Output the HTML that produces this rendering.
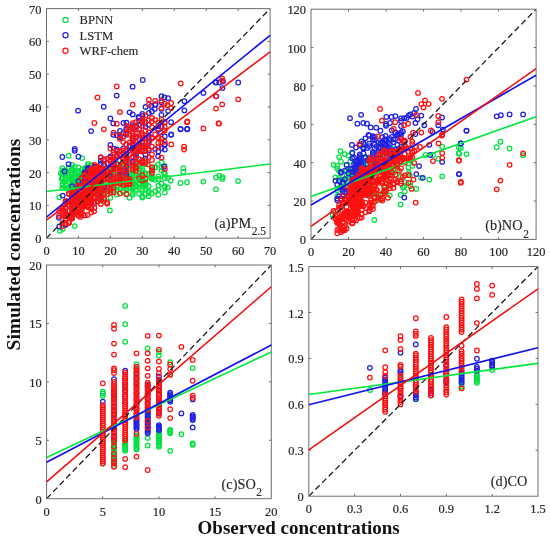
<!DOCTYPE html>
<html><head><meta charset="utf-8"><style>html,body{margin:0;padding:0;background:#fff;}svg{display:block;will-change:transform}</style></head>
<body><svg width="550" height="540" viewBox="0 0 550 540">
<rect width="550" height="540" fill="#fff"/>
<clipPath id="ca"><rect x="46.5" y="8.6" width="223.60000000000002" height="229.6"/></clipPath><g clip-path="url(#ca)"><g fill="none" stroke="#00e040" stroke-width="1.25"><circle cx="78.4" cy="167.3" r="2.3"/><circle cx="72.1" cy="186.1" r="2.3"/><circle cx="91.2" cy="189.9" r="2.3"/><circle cx="100.8" cy="182.5" r="2.3"/><circle cx="94.4" cy="189.5" r="2.3"/><circle cx="75.2" cy="176.9" r="2.3"/><circle cx="126.4" cy="180.4" r="2.3"/><circle cx="84.8" cy="187.2" r="2.3"/><circle cx="142.3" cy="178.8" r="2.3"/><circle cx="94.4" cy="183.7" r="2.3"/><circle cx="65.7" cy="178.0" r="2.3"/><circle cx="91.2" cy="179.1" r="2.3"/><circle cx="78.4" cy="173.1" r="2.3"/><circle cx="126.4" cy="171.4" r="2.3"/><circle cx="104.0" cy="188.1" r="2.3"/><circle cx="91.2" cy="186.4" r="2.3"/><circle cx="72.1" cy="188.7" r="2.3"/><circle cx="81.6" cy="175.9" r="2.3"/><circle cx="94.4" cy="188.2" r="2.3"/><circle cx="107.2" cy="168.1" r="2.3"/><circle cx="88.0" cy="179.6" r="2.3"/><circle cx="132.7" cy="194.8" r="2.3"/><circle cx="104.0" cy="172.7" r="2.3"/><circle cx="132.7" cy="174.4" r="2.3"/><circle cx="91.2" cy="184.3" r="2.3"/><circle cx="72.1" cy="172.1" r="2.3"/><circle cx="120.0" cy="174.8" r="2.3"/><circle cx="97.6" cy="180.5" r="2.3"/><circle cx="110.4" cy="185.3" r="2.3"/><circle cx="120.0" cy="177.3" r="2.3"/><circle cx="91.2" cy="179.4" r="2.3"/><circle cx="107.2" cy="168.7" r="2.3"/><circle cx="97.6" cy="186.9" r="2.3"/><circle cx="158.3" cy="189.6" r="2.3"/><circle cx="110.4" cy="174.6" r="2.3"/><circle cx="113.6" cy="166.9" r="2.3"/><circle cx="158.3" cy="178.9" r="2.3"/><circle cx="88.0" cy="185.8" r="2.3"/><circle cx="110.4" cy="188.5" r="2.3"/><circle cx="97.6" cy="193.4" r="2.3"/><circle cx="78.4" cy="195.6" r="2.3"/><circle cx="120.0" cy="176.4" r="2.3"/><circle cx="84.8" cy="179.1" r="2.3"/><circle cx="132.7" cy="178.2" r="2.3"/><circle cx="97.6" cy="179.1" r="2.3"/><circle cx="132.7" cy="171.8" r="2.3"/><circle cx="151.9" cy="169.4" r="2.3"/><circle cx="94.4" cy="181.2" r="2.3"/><circle cx="132.7" cy="183.2" r="2.3"/><circle cx="75.2" cy="181.8" r="2.3"/><circle cx="84.8" cy="181.5" r="2.3"/><circle cx="97.6" cy="183.1" r="2.3"/><circle cx="84.8" cy="179.9" r="2.3"/><circle cx="94.4" cy="175.0" r="2.3"/><circle cx="104.0" cy="176.6" r="2.3"/><circle cx="132.7" cy="172.9" r="2.3"/><circle cx="107.2" cy="178.2" r="2.3"/><circle cx="72.1" cy="179.5" r="2.3"/><circle cx="142.3" cy="189.0" r="2.3"/><circle cx="142.3" cy="177.9" r="2.3"/><circle cx="94.4" cy="190.8" r="2.3"/><circle cx="110.4" cy="170.5" r="2.3"/><circle cx="72.1" cy="188.3" r="2.3"/><circle cx="81.6" cy="191.2" r="2.3"/><circle cx="72.1" cy="189.1" r="2.3"/><circle cx="78.4" cy="189.6" r="2.3"/><circle cx="91.2" cy="181.9" r="2.3"/><circle cx="132.7" cy="186.1" r="2.3"/><circle cx="78.4" cy="181.6" r="2.3"/><circle cx="91.2" cy="188.6" r="2.3"/><circle cx="78.4" cy="189.7" r="2.3"/><circle cx="164.7" cy="172.8" r="2.3"/><circle cx="97.6" cy="189.5" r="2.3"/><circle cx="75.2" cy="176.3" r="2.3"/><circle cx="84.8" cy="182.6" r="2.3"/><circle cx="75.2" cy="181.4" r="2.3"/><circle cx="145.5" cy="173.1" r="2.3"/><circle cx="78.4" cy="187.7" r="2.3"/><circle cx="68.9" cy="190.5" r="2.3"/><circle cx="151.9" cy="178.9" r="2.3"/><circle cx="132.7" cy="167.1" r="2.3"/><circle cx="91.2" cy="194.7" r="2.3"/><circle cx="120.0" cy="175.3" r="2.3"/><circle cx="120.0" cy="184.0" r="2.3"/><circle cx="84.8" cy="190.5" r="2.3"/><circle cx="164.7" cy="166.0" r="2.3"/><circle cx="145.5" cy="186.0" r="2.3"/><circle cx="135.9" cy="166.0" r="2.3"/><circle cx="100.8" cy="175.2" r="2.3"/><circle cx="68.9" cy="167.7" r="2.3"/><circle cx="88.0" cy="181.8" r="2.3"/><circle cx="113.6" cy="183.7" r="2.3"/><circle cx="107.2" cy="173.8" r="2.3"/><circle cx="164.7" cy="178.0" r="2.3"/><circle cx="97.6" cy="193.0" r="2.3"/><circle cx="84.8" cy="180.5" r="2.3"/><circle cx="81.6" cy="181.0" r="2.3"/><circle cx="135.9" cy="164.2" r="2.3"/><circle cx="110.4" cy="182.5" r="2.3"/><circle cx="123.2" cy="183.9" r="2.3"/><circle cx="110.4" cy="193.3" r="2.3"/><circle cx="142.3" cy="172.1" r="2.3"/><circle cx="110.4" cy="179.1" r="2.3"/><circle cx="123.2" cy="172.2" r="2.3"/><circle cx="123.2" cy="180.3" r="2.3"/><circle cx="100.8" cy="187.4" r="2.3"/><circle cx="142.3" cy="190.8" r="2.3"/><circle cx="78.4" cy="177.5" r="2.3"/><circle cx="78.4" cy="197.5" r="2.3"/><circle cx="145.5" cy="183.4" r="2.3"/><circle cx="126.4" cy="165.3" r="2.3"/><circle cx="129.6" cy="177.9" r="2.3"/><circle cx="104.0" cy="184.0" r="2.3"/><circle cx="65.7" cy="181.3" r="2.3"/><circle cx="126.4" cy="194.3" r="2.3"/><circle cx="142.3" cy="166.2" r="2.3"/><circle cx="132.7" cy="192.8" r="2.3"/><circle cx="81.6" cy="172.6" r="2.3"/><circle cx="88.0" cy="175.4" r="2.3"/><circle cx="107.2" cy="178.7" r="2.3"/><circle cx="94.4" cy="197.1" r="2.3"/><circle cx="135.9" cy="185.7" r="2.3"/><circle cx="97.6" cy="176.9" r="2.3"/><circle cx="135.9" cy="187.0" r="2.3"/><circle cx="139.1" cy="169.3" r="2.3"/><circle cx="100.8" cy="184.3" r="2.3"/><circle cx="65.7" cy="188.3" r="2.3"/><circle cx="81.6" cy="184.2" r="2.3"/><circle cx="123.2" cy="192.2" r="2.3"/><circle cx="97.6" cy="198.0" r="2.3"/><circle cx="116.8" cy="189.9" r="2.3"/><circle cx="100.8" cy="182.6" r="2.3"/><circle cx="123.2" cy="183.7" r="2.3"/><circle cx="104.0" cy="173.4" r="2.3"/><circle cx="88.0" cy="178.9" r="2.3"/><circle cx="113.6" cy="179.3" r="2.3"/><circle cx="120.0" cy="168.6" r="2.3"/><circle cx="107.2" cy="182.3" r="2.3"/><circle cx="100.8" cy="173.4" r="2.3"/><circle cx="113.6" cy="168.5" r="2.3"/><circle cx="100.8" cy="164.1" r="2.3"/><circle cx="142.3" cy="197.5" r="2.3"/><circle cx="132.7" cy="187.1" r="2.3"/><circle cx="88.0" cy="177.6" r="2.3"/><circle cx="142.3" cy="177.6" r="2.3"/><circle cx="75.2" cy="173.4" r="2.3"/><circle cx="97.6" cy="188.3" r="2.3"/><circle cx="84.8" cy="199.0" r="2.3"/><circle cx="110.4" cy="180.2" r="2.3"/><circle cx="155.1" cy="167.4" r="2.3"/><circle cx="116.8" cy="189.6" r="2.3"/><circle cx="78.4" cy="179.4" r="2.3"/><circle cx="161.5" cy="170.4" r="2.3"/><circle cx="145.5" cy="184.7" r="2.3"/><circle cx="97.6" cy="172.3" r="2.3"/><circle cx="145.5" cy="174.2" r="2.3"/><circle cx="94.4" cy="171.3" r="2.3"/><circle cx="91.2" cy="184.4" r="2.3"/><circle cx="88.0" cy="163.9" r="2.3"/><circle cx="62.5" cy="173.4" r="2.3"/><circle cx="97.6" cy="182.8" r="2.3"/><circle cx="91.2" cy="175.9" r="2.3"/><circle cx="100.8" cy="175.0" r="2.3"/><circle cx="151.9" cy="177.4" r="2.3"/><circle cx="161.5" cy="167.5" r="2.3"/><circle cx="84.8" cy="189.4" r="2.3"/><circle cx="120.0" cy="170.9" r="2.3"/><circle cx="78.4" cy="171.4" r="2.3"/><circle cx="135.9" cy="186.0" r="2.3"/><circle cx="88.0" cy="177.5" r="2.3"/><circle cx="139.1" cy="177.1" r="2.3"/><circle cx="113.6" cy="187.9" r="2.3"/><circle cx="72.1" cy="187.5" r="2.3"/><circle cx="94.4" cy="174.5" r="2.3"/><circle cx="142.3" cy="196.2" r="2.3"/><circle cx="123.2" cy="190.7" r="2.3"/><circle cx="129.6" cy="187.9" r="2.3"/><circle cx="129.6" cy="173.4" r="2.3"/><circle cx="91.2" cy="179.2" r="2.3"/><circle cx="139.1" cy="166.4" r="2.3"/><circle cx="78.4" cy="171.4" r="2.3"/><circle cx="84.8" cy="169.9" r="2.3"/><circle cx="81.6" cy="198.0" r="2.3"/><circle cx="81.6" cy="182.5" r="2.3"/><circle cx="88.0" cy="192.7" r="2.3"/><circle cx="91.2" cy="165.1" r="2.3"/><circle cx="81.6" cy="169.9" r="2.3"/><circle cx="65.7" cy="183.5" r="2.3"/><circle cx="65.7" cy="170.6" r="2.3"/><circle cx="116.8" cy="172.3" r="2.3"/><circle cx="97.6" cy="174.1" r="2.3"/><circle cx="72.1" cy="186.5" r="2.3"/><circle cx="104.0" cy="186.5" r="2.3"/><circle cx="126.4" cy="166.4" r="2.3"/><circle cx="100.8" cy="195.1" r="2.3"/><circle cx="151.9" cy="175.0" r="2.3"/><circle cx="126.4" cy="167.7" r="2.3"/><circle cx="126.4" cy="178.2" r="2.3"/><circle cx="91.2" cy="182.7" r="2.3"/><circle cx="78.4" cy="176.4" r="2.3"/><circle cx="116.8" cy="186.2" r="2.3"/><circle cx="81.6" cy="178.2" r="2.3"/><circle cx="129.6" cy="179.6" r="2.3"/><circle cx="129.6" cy="183.8" r="2.3"/><circle cx="84.8" cy="195.1" r="2.3"/><circle cx="97.6" cy="189.5" r="2.3"/><circle cx="97.6" cy="173.7" r="2.3"/><circle cx="145.5" cy="163.6" r="2.3"/><circle cx="116.8" cy="181.7" r="2.3"/><circle cx="148.7" cy="186.1" r="2.3"/><circle cx="91.2" cy="177.5" r="2.3"/><circle cx="91.2" cy="175.9" r="2.3"/><circle cx="100.8" cy="191.6" r="2.3"/><circle cx="100.8" cy="192.6" r="2.3"/><circle cx="84.8" cy="176.4" r="2.3"/><circle cx="94.4" cy="198.4" r="2.3"/><circle cx="65.7" cy="173.4" r="2.3"/><circle cx="84.8" cy="180.7" r="2.3"/><circle cx="100.8" cy="184.5" r="2.3"/><circle cx="129.6" cy="178.6" r="2.3"/><circle cx="151.9" cy="178.5" r="2.3"/><circle cx="88.0" cy="194.8" r="2.3"/><circle cx="75.2" cy="192.1" r="2.3"/><circle cx="126.4" cy="175.8" r="2.3"/><circle cx="126.4" cy="190.0" r="2.3"/><circle cx="126.4" cy="177.3" r="2.3"/><circle cx="145.5" cy="194.2" r="2.3"/><circle cx="100.8" cy="178.5" r="2.3"/><circle cx="126.4" cy="183.0" r="2.3"/><circle cx="145.5" cy="161.1" r="2.3"/><circle cx="135.9" cy="170.5" r="2.3"/><circle cx="113.6" cy="169.2" r="2.3"/><circle cx="68.9" cy="175.3" r="2.3"/><circle cx="91.2" cy="175.9" r="2.3"/><circle cx="126.4" cy="188.6" r="2.3"/><circle cx="107.2" cy="191.4" r="2.3"/><circle cx="113.6" cy="185.0" r="2.3"/><circle cx="62.5" cy="168.2" r="2.3"/><circle cx="139.1" cy="193.8" r="2.3"/><circle cx="100.8" cy="189.7" r="2.3"/><circle cx="72.1" cy="178.8" r="2.3"/><circle cx="84.8" cy="168.2" r="2.3"/><circle cx="84.8" cy="191.7" r="2.3"/><circle cx="81.6" cy="192.6" r="2.3"/><circle cx="161.5" cy="183.7" r="2.3"/><circle cx="91.2" cy="187.9" r="2.3"/><circle cx="113.6" cy="190.8" r="2.3"/><circle cx="123.2" cy="178.8" r="2.3"/><circle cx="75.2" cy="177.9" r="2.3"/><circle cx="84.8" cy="172.9" r="2.3"/><circle cx="91.2" cy="188.8" r="2.3"/><circle cx="65.7" cy="171.1" r="2.3"/><circle cx="84.8" cy="170.8" r="2.3"/><circle cx="113.6" cy="175.1" r="2.3"/><circle cx="88.0" cy="175.9" r="2.3"/><circle cx="97.6" cy="186.6" r="2.3"/><circle cx="78.4" cy="180.5" r="2.3"/><circle cx="81.6" cy="182.8" r="2.3"/><circle cx="158.3" cy="176.4" r="2.3"/><circle cx="97.6" cy="179.8" r="2.3"/><circle cx="161.5" cy="162.5" r="2.3"/><circle cx="84.8" cy="179.8" r="2.3"/><circle cx="142.3" cy="181.0" r="2.3"/><circle cx="104.0" cy="187.6" r="2.3"/><circle cx="100.8" cy="185.6" r="2.3"/><circle cx="72.1" cy="193.4" r="2.3"/><circle cx="113.6" cy="174.2" r="2.3"/><circle cx="132.7" cy="181.4" r="2.3"/><circle cx="135.9" cy="178.2" r="2.3"/><circle cx="68.9" cy="188.3" r="2.3"/><circle cx="100.8" cy="169.9" r="2.3"/><circle cx="88.0" cy="190.7" r="2.3"/><circle cx="91.2" cy="196.1" r="2.3"/><circle cx="129.6" cy="164.6" r="2.3"/><circle cx="120.0" cy="168.4" r="2.3"/><circle cx="72.1" cy="196.0" r="2.3"/><circle cx="135.9" cy="161.8" r="2.3"/><circle cx="91.2" cy="184.7" r="2.3"/><circle cx="94.4" cy="186.8" r="2.3"/><circle cx="120.0" cy="183.1" r="2.3"/><circle cx="94.4" cy="186.5" r="2.3"/><circle cx="72.1" cy="170.1" r="2.3"/><circle cx="126.4" cy="176.9" r="2.3"/><circle cx="142.3" cy="179.4" r="2.3"/><circle cx="84.8" cy="174.5" r="2.3"/><circle cx="81.6" cy="173.1" r="2.3"/><circle cx="145.5" cy="183.2" r="2.3"/><circle cx="145.5" cy="189.0" r="2.3"/><circle cx="139.1" cy="175.8" r="2.3"/><circle cx="116.8" cy="163.1" r="2.3"/><circle cx="65.7" cy="185.1" r="2.3"/><circle cx="107.2" cy="187.8" r="2.3"/><circle cx="126.4" cy="180.5" r="2.3"/><circle cx="72.1" cy="164.9" r="2.3"/><circle cx="72.1" cy="180.6" r="2.3"/><circle cx="91.2" cy="171.2" r="2.3"/><circle cx="116.8" cy="194.6" r="2.3"/><circle cx="88.0" cy="174.6" r="2.3"/><circle cx="88.0" cy="165.9" r="2.3"/><circle cx="94.4" cy="191.7" r="2.3"/><circle cx="81.6" cy="179.4" r="2.3"/><circle cx="135.9" cy="179.9" r="2.3"/><circle cx="84.8" cy="171.8" r="2.3"/><circle cx="164.7" cy="187.0" r="2.3"/><circle cx="78.4" cy="183.6" r="2.3"/><circle cx="75.2" cy="173.2" r="2.3"/><circle cx="75.2" cy="189.2" r="2.3"/><circle cx="84.8" cy="192.5" r="2.3"/><circle cx="132.7" cy="168.1" r="2.3"/><circle cx="104.0" cy="178.6" r="2.3"/><circle cx="100.8" cy="177.7" r="2.3"/><circle cx="91.2" cy="174.3" r="2.3"/><circle cx="88.0" cy="183.3" r="2.3"/><circle cx="72.1" cy="182.3" r="2.3"/><circle cx="110.4" cy="197.7" r="2.3"/><circle cx="81.6" cy="187.4" r="2.3"/><circle cx="84.8" cy="188.4" r="2.3"/><circle cx="97.6" cy="181.2" r="2.3"/><circle cx="148.7" cy="192.8" r="2.3"/><circle cx="62.5" cy="178.1" r="2.3"/><circle cx="116.8" cy="174.6" r="2.3"/><circle cx="110.4" cy="184.5" r="2.3"/><circle cx="59.3" cy="197.3" r="2.3"/><circle cx="139.1" cy="173.7" r="2.3"/><circle cx="148.7" cy="173.7" r="2.3"/><circle cx="84.8" cy="180.8" r="2.3"/><circle cx="78.4" cy="182.2" r="2.3"/><circle cx="113.6" cy="187.4" r="2.3"/><circle cx="135.9" cy="175.0" r="2.3"/><circle cx="120.0" cy="165.9" r="2.3"/><circle cx="104.0" cy="193.4" r="2.3"/><circle cx="123.2" cy="174.6" r="2.3"/><circle cx="139.1" cy="183.7" r="2.3"/><circle cx="88.0" cy="177.5" r="2.3"/><circle cx="84.8" cy="194.6" r="2.3"/><circle cx="113.6" cy="181.5" r="2.3"/><circle cx="72.1" cy="176.8" r="2.3"/><circle cx="104.0" cy="188.9" r="2.3"/><circle cx="84.8" cy="170.3" r="2.3"/><circle cx="65.7" cy="185.5" r="2.3"/><circle cx="97.6" cy="189.7" r="2.3"/><circle cx="126.4" cy="172.7" r="2.3"/><circle cx="110.4" cy="173.2" r="2.3"/><circle cx="84.8" cy="183.5" r="2.3"/><circle cx="132.7" cy="188.7" r="2.3"/><circle cx="65.7" cy="178.4" r="2.3"/><circle cx="113.6" cy="179.9" r="2.3"/><circle cx="84.8" cy="192.8" r="2.3"/><circle cx="139.1" cy="168.9" r="2.3"/><circle cx="68.9" cy="187.1" r="2.3"/><circle cx="94.4" cy="173.1" r="2.3"/><circle cx="81.6" cy="177.3" r="2.3"/><circle cx="135.9" cy="189.5" r="2.3"/><circle cx="81.6" cy="174.1" r="2.3"/><circle cx="91.2" cy="192.1" r="2.3"/><circle cx="84.8" cy="180.1" r="2.3"/><circle cx="120.0" cy="181.4" r="2.3"/><circle cx="145.5" cy="183.0" r="2.3"/><circle cx="81.6" cy="190.4" r="2.3"/><circle cx="94.4" cy="180.9" r="2.3"/><circle cx="142.3" cy="186.1" r="2.3"/><circle cx="94.4" cy="173.0" r="2.3"/><circle cx="148.7" cy="174.5" r="2.3"/><circle cx="72.1" cy="168.5" r="2.3"/><circle cx="94.4" cy="193.2" r="2.3"/><circle cx="151.9" cy="167.4" r="2.3"/><circle cx="164.7" cy="186.2" r="2.3"/><circle cx="94.4" cy="172.7" r="2.3"/><circle cx="142.3" cy="183.1" r="2.3"/><circle cx="62.5" cy="184.1" r="2.3"/><circle cx="91.2" cy="173.5" r="2.3"/><circle cx="91.2" cy="176.5" r="2.3"/><circle cx="62.5" cy="177.2" r="2.3"/><circle cx="91.2" cy="187.8" r="2.3"/><circle cx="72.1" cy="180.0" r="2.3"/><circle cx="81.6" cy="182.8" r="2.3"/><circle cx="126.4" cy="168.2" r="2.3"/><circle cx="104.0" cy="179.1" r="2.3"/><circle cx="97.6" cy="180.4" r="2.3"/><circle cx="139.1" cy="184.5" r="2.3"/><circle cx="91.2" cy="199.1" r="2.3"/><circle cx="62.5" cy="170.7" r="2.3"/><circle cx="126.4" cy="186.5" r="2.3"/><circle cx="62.5" cy="174.7" r="2.3"/><circle cx="72.1" cy="192.8" r="2.3"/><circle cx="84.8" cy="180.7" r="2.3"/><circle cx="155.1" cy="167.1" r="2.3"/><circle cx="84.8" cy="168.9" r="2.3"/><circle cx="123.2" cy="186.7" r="2.3"/><circle cx="116.8" cy="187.2" r="2.3"/><circle cx="88.0" cy="185.2" r="2.3"/><circle cx="120.0" cy="174.9" r="2.3"/><circle cx="126.4" cy="179.2" r="2.3"/><circle cx="62.5" cy="187.9" r="2.3"/><circle cx="97.6" cy="178.7" r="2.3"/><circle cx="158.3" cy="185.6" r="2.3"/><circle cx="84.8" cy="189.1" r="2.3"/><circle cx="100.8" cy="186.4" r="2.3"/><circle cx="78.4" cy="182.9" r="2.3"/><circle cx="135.9" cy="185.0" r="2.3"/><circle cx="142.3" cy="168.9" r="2.3"/><circle cx="88.0" cy="184.7" r="2.3"/><circle cx="91.2" cy="169.0" r="2.3"/><circle cx="68.9" cy="177.7" r="2.3"/><circle cx="120.0" cy="183.2" r="2.3"/><circle cx="72.1" cy="173.8" r="2.3"/><circle cx="104.0" cy="173.5" r="2.3"/><circle cx="151.9" cy="193.4" r="2.3"/><circle cx="164.7" cy="173.7" r="2.3"/><circle cx="75.2" cy="190.8" r="2.3"/><circle cx="100.8" cy="183.8" r="2.3"/><circle cx="107.2" cy="167.8" r="2.3"/><circle cx="94.4" cy="171.3" r="2.3"/><circle cx="113.6" cy="175.2" r="2.3"/><circle cx="148.7" cy="191.1" r="2.3"/><circle cx="78.4" cy="186.7" r="2.3"/><circle cx="91.2" cy="177.7" r="2.3"/><circle cx="91.2" cy="171.1" r="2.3"/><circle cx="81.6" cy="197.8" r="2.3"/><circle cx="84.8" cy="176.4" r="2.3"/><circle cx="132.7" cy="184.3" r="2.3"/><circle cx="88.0" cy="190.9" r="2.3"/><circle cx="158.3" cy="194.7" r="2.3"/><circle cx="84.8" cy="193.0" r="2.3"/><circle cx="129.6" cy="197.7" r="2.3"/><circle cx="68.9" cy="178.0" r="2.3"/><circle cx="126.4" cy="175.1" r="2.3"/><circle cx="155.1" cy="179.8" r="2.3"/><circle cx="88.0" cy="195.5" r="2.3"/><circle cx="81.6" cy="186.3" r="2.3"/><circle cx="203.3" cy="181.6" r="2.3"/><circle cx="215.9" cy="177.4" r="2.3"/><circle cx="219.3" cy="175.6" r="2.3"/><circle cx="222.6" cy="177.1" r="2.3"/><circle cx="222.3" cy="178.9" r="2.3"/><circle cx="238.1" cy="181.1" r="2.3"/><circle cx="215.9" cy="189.3" r="2.3"/><circle cx="183.3" cy="168.1" r="2.3"/><circle cx="183.3" cy="171.9" r="2.3"/><circle cx="180.4" cy="183.0" r="2.3"/><circle cx="187.0" cy="182.2" r="2.3"/><circle cx="158.1" cy="164.4" r="2.3"/><circle cx="164.1" cy="172.6" r="2.3"/><circle cx="167.8" cy="177.8" r="2.3"/><circle cx="170.7" cy="180.7" r="2.3"/><circle cx="167.8" cy="187.4" r="2.3"/><circle cx="164.8" cy="192.6" r="2.3"/><circle cx="155.2" cy="191.1" r="2.3"/><circle cx="148.5" cy="196.3" r="2.3"/><circle cx="68.6" cy="155.7" r="2.3"/><circle cx="82.1" cy="158.1" r="2.3"/><circle cx="74.7" cy="166.9" r="2.3"/><circle cx="60.8" cy="173.3" r="2.3"/><circle cx="61.7" cy="178.9" r="2.3"/><circle cx="62.7" cy="185.4" r="2.3"/><circle cx="74.7" cy="226.1" r="2.3"/><circle cx="59.9" cy="230.7" r="2.3"/><circle cx="62.7" cy="228.9" r="2.3"/><circle cx="109.9" cy="210.4" r="2.3"/><circle cx="103.4" cy="201.1" r="2.3"/></g><g fill="none" stroke="#2020e0" stroke-width="1.25"><circle cx="78.4" cy="200.4" r="2.3"/><circle cx="91.2" cy="186.4" r="2.3"/><circle cx="94.4" cy="178.5" r="2.3"/><circle cx="126.4" cy="122.7" r="2.3"/><circle cx="142.3" cy="141.2" r="2.3"/><circle cx="65.7" cy="224.7" r="2.3"/><circle cx="78.4" cy="201.2" r="2.3"/><circle cx="104.0" cy="164.6" r="2.3"/><circle cx="72.1" cy="192.7" r="2.3"/><circle cx="94.4" cy="180.3" r="2.3"/><circle cx="88.0" cy="168.5" r="2.3"/><circle cx="104.0" cy="186.6" r="2.3"/><circle cx="91.2" cy="170.5" r="2.3"/><circle cx="120.0" cy="175.4" r="2.3"/><circle cx="110.4" cy="145.0" r="2.3"/><circle cx="91.2" cy="195.7" r="2.3"/><circle cx="97.6" cy="175.2" r="2.3"/><circle cx="110.4" cy="156.4" r="2.3"/><circle cx="158.3" cy="126.2" r="2.3"/><circle cx="110.4" cy="177.0" r="2.3"/><circle cx="78.4" cy="187.9" r="2.3"/><circle cx="84.8" cy="201.9" r="2.3"/><circle cx="97.6" cy="186.3" r="2.3"/><circle cx="151.9" cy="111.5" r="2.3"/><circle cx="132.7" cy="148.1" r="2.3"/><circle cx="84.8" cy="183.3" r="2.3"/><circle cx="84.8" cy="183.2" r="2.3"/><circle cx="104.0" cy="171.9" r="2.3"/><circle cx="107.2" cy="178.3" r="2.3"/><circle cx="142.3" cy="135.6" r="2.3"/><circle cx="94.4" cy="167.7" r="2.3"/><circle cx="72.1" cy="212.9" r="2.3"/><circle cx="72.1" cy="213.1" r="2.3"/><circle cx="91.2" cy="201.9" r="2.3"/><circle cx="78.4" cy="201.6" r="2.3"/><circle cx="78.4" cy="197.5" r="2.3"/><circle cx="97.6" cy="190.3" r="2.3"/><circle cx="84.8" cy="193.6" r="2.3"/><circle cx="145.5" cy="126.8" r="2.3"/><circle cx="68.9" cy="216.8" r="2.3"/><circle cx="132.7" cy="127.0" r="2.3"/><circle cx="120.0" cy="154.7" r="2.3"/><circle cx="84.8" cy="200.3" r="2.3"/><circle cx="145.5" cy="122.3" r="2.3"/><circle cx="100.8" cy="178.8" r="2.3"/><circle cx="88.0" cy="184.2" r="2.3"/><circle cx="107.2" cy="163.3" r="2.3"/><circle cx="97.6" cy="179.5" r="2.3"/><circle cx="81.6" cy="190.0" r="2.3"/><circle cx="110.4" cy="180.1" r="2.3"/><circle cx="110.4" cy="168.6" r="2.3"/><circle cx="110.4" cy="168.2" r="2.3"/><circle cx="123.2" cy="171.4" r="2.3"/><circle cx="142.3" cy="160.3" r="2.3"/><circle cx="78.4" cy="188.5" r="2.3"/><circle cx="126.4" cy="129.3" r="2.3"/><circle cx="104.0" cy="164.3" r="2.3"/><circle cx="126.4" cy="161.4" r="2.3"/><circle cx="132.7" cy="114.4" r="2.3"/><circle cx="88.0" cy="181.3" r="2.3"/><circle cx="94.4" cy="201.8" r="2.3"/><circle cx="97.6" cy="174.1" r="2.3"/><circle cx="139.1" cy="121.0" r="2.3"/><circle cx="65.7" cy="201.6" r="2.3"/><circle cx="123.2" cy="133.2" r="2.3"/><circle cx="116.8" cy="135.2" r="2.3"/><circle cx="123.2" cy="148.4" r="2.3"/><circle cx="88.0" cy="170.0" r="2.3"/><circle cx="120.0" cy="178.0" r="2.3"/><circle cx="100.8" cy="181.7" r="2.3"/><circle cx="100.8" cy="160.7" r="2.3"/><circle cx="132.7" cy="161.6" r="2.3"/><circle cx="142.3" cy="138.2" r="2.3"/><circle cx="97.6" cy="176.6" r="2.3"/><circle cx="110.4" cy="175.5" r="2.3"/><circle cx="116.8" cy="149.8" r="2.3"/><circle cx="161.5" cy="96.2" r="2.3"/><circle cx="97.6" cy="187.8" r="2.3"/><circle cx="94.4" cy="191.1" r="2.3"/><circle cx="88.0" cy="191.7" r="2.3"/><circle cx="97.6" cy="180.4" r="2.3"/><circle cx="100.8" cy="168.2" r="2.3"/><circle cx="161.5" cy="126.5" r="2.3"/><circle cx="120.0" cy="135.9" r="2.3"/><circle cx="135.9" cy="157.3" r="2.3"/><circle cx="139.1" cy="117.9" r="2.3"/><circle cx="72.1" cy="186.2" r="2.3"/><circle cx="142.3" cy="146.7" r="2.3"/><circle cx="129.6" cy="162.2" r="2.3"/><circle cx="91.2" cy="200.2" r="2.3"/><circle cx="78.4" cy="181.3" r="2.3"/><circle cx="81.6" cy="200.0" r="2.3"/><circle cx="88.0" cy="167.9" r="2.3"/><circle cx="81.6" cy="197.1" r="2.3"/><circle cx="65.7" cy="208.6" r="2.3"/><circle cx="97.6" cy="174.1" r="2.3"/><circle cx="104.0" cy="164.7" r="2.3"/><circle cx="100.8" cy="196.9" r="2.3"/><circle cx="126.4" cy="134.7" r="2.3"/><circle cx="91.2" cy="177.3" r="2.3"/><circle cx="116.8" cy="149.5" r="2.3"/><circle cx="129.6" cy="150.4" r="2.3"/><circle cx="84.8" cy="181.7" r="2.3"/><circle cx="97.6" cy="194.8" r="2.3"/><circle cx="116.8" cy="156.4" r="2.3"/><circle cx="91.2" cy="181.9" r="2.3"/><circle cx="100.8" cy="157.6" r="2.3"/><circle cx="84.8" cy="183.5" r="2.3"/><circle cx="65.7" cy="218.8" r="2.3"/><circle cx="100.8" cy="175.1" r="2.3"/><circle cx="151.9" cy="137.3" r="2.3"/><circle cx="75.2" cy="210.4" r="2.3"/><circle cx="126.4" cy="172.6" r="2.3"/><circle cx="145.5" cy="158.3" r="2.3"/><circle cx="126.4" cy="178.6" r="2.3"/><circle cx="135.9" cy="147.1" r="2.3"/><circle cx="68.9" cy="201.6" r="2.3"/><circle cx="126.4" cy="150.8" r="2.3"/><circle cx="113.6" cy="148.6" r="2.3"/><circle cx="139.1" cy="129.1" r="2.3"/><circle cx="72.1" cy="194.8" r="2.3"/><circle cx="84.8" cy="173.6" r="2.3"/><circle cx="161.5" cy="148.2" r="2.3"/><circle cx="113.6" cy="162.2" r="2.3"/><circle cx="75.2" cy="207.6" r="2.3"/><circle cx="91.2" cy="189.4" r="2.3"/><circle cx="84.8" cy="172.7" r="2.3"/><circle cx="88.0" cy="206.6" r="2.3"/><circle cx="78.4" cy="215.4" r="2.3"/><circle cx="158.3" cy="129.8" r="2.3"/><circle cx="161.5" cy="115.0" r="2.3"/><circle cx="142.3" cy="151.4" r="2.3"/><circle cx="100.8" cy="176.3" r="2.3"/><circle cx="113.6" cy="164.2" r="2.3"/><circle cx="135.9" cy="137.5" r="2.3"/><circle cx="100.8" cy="181.4" r="2.3"/><circle cx="91.2" cy="175.8" r="2.3"/><circle cx="120.0" cy="170.7" r="2.3"/><circle cx="135.9" cy="154.1" r="2.3"/><circle cx="94.4" cy="192.5" r="2.3"/><circle cx="94.4" cy="166.9" r="2.3"/><circle cx="126.4" cy="166.1" r="2.3"/><circle cx="84.8" cy="178.4" r="2.3"/><circle cx="145.5" cy="106.9" r="2.3"/><circle cx="139.1" cy="151.1" r="2.3"/><circle cx="65.7" cy="224.3" r="2.3"/><circle cx="126.4" cy="144.6" r="2.3"/><circle cx="72.1" cy="213.0" r="2.3"/><circle cx="116.8" cy="156.0" r="2.3"/><circle cx="88.0" cy="200.8" r="2.3"/><circle cx="81.6" cy="190.5" r="2.3"/><circle cx="84.8" cy="188.9" r="2.3"/><circle cx="78.4" cy="197.6" r="2.3"/><circle cx="75.2" cy="204.7" r="2.3"/><circle cx="132.7" cy="144.4" r="2.3"/><circle cx="100.8" cy="172.6" r="2.3"/><circle cx="88.0" cy="200.5" r="2.3"/><circle cx="110.4" cy="174.9" r="2.3"/><circle cx="84.8" cy="190.2" r="2.3"/><circle cx="148.7" cy="124.8" r="2.3"/><circle cx="116.8" cy="156.1" r="2.3"/><circle cx="59.3" cy="226.5" r="2.3"/><circle cx="148.7" cy="142.8" r="2.3"/><circle cx="78.4" cy="199.2" r="2.3"/><circle cx="135.9" cy="126.0" r="2.3"/><circle cx="104.0" cy="187.5" r="2.3"/><circle cx="139.1" cy="146.9" r="2.3"/><circle cx="84.8" cy="172.4" r="2.3"/><circle cx="72.1" cy="194.7" r="2.3"/><circle cx="84.8" cy="204.4" r="2.3"/><circle cx="97.6" cy="176.6" r="2.3"/><circle cx="110.4" cy="157.3" r="2.3"/><circle cx="132.7" cy="140.4" r="2.3"/><circle cx="113.6" cy="162.0" r="2.3"/><circle cx="139.1" cy="124.7" r="2.3"/><circle cx="94.4" cy="184.2" r="2.3"/><circle cx="135.9" cy="157.2" r="2.3"/><circle cx="91.2" cy="176.8" r="2.3"/><circle cx="120.0" cy="176.7" r="2.3"/><circle cx="81.6" cy="178.2" r="2.3"/><circle cx="142.3" cy="122.5" r="2.3"/><circle cx="148.7" cy="150.4" r="2.3"/><circle cx="94.4" cy="175.1" r="2.3"/><circle cx="164.7" cy="144.5" r="2.3"/><circle cx="142.3" cy="162.6" r="2.3"/><circle cx="91.2" cy="187.0" r="2.3"/><circle cx="62.5" cy="211.8" r="2.3"/><circle cx="72.1" cy="217.7" r="2.3"/><circle cx="126.4" cy="174.3" r="2.3"/><circle cx="97.6" cy="180.1" r="2.3"/><circle cx="91.2" cy="201.9" r="2.3"/><circle cx="126.4" cy="128.3" r="2.3"/><circle cx="72.1" cy="201.4" r="2.3"/><circle cx="155.1" cy="104.4" r="2.3"/><circle cx="123.2" cy="153.5" r="2.3"/><circle cx="88.0" cy="189.0" r="2.3"/><circle cx="126.4" cy="157.2" r="2.3"/><circle cx="97.6" cy="181.4" r="2.3"/><circle cx="84.8" cy="199.9" r="2.3"/><circle cx="78.4" cy="186.1" r="2.3"/><circle cx="142.3" cy="114.0" r="2.3"/><circle cx="91.2" cy="193.5" r="2.3"/><circle cx="120.0" cy="137.4" r="2.3"/><circle cx="104.0" cy="159.4" r="2.3"/><circle cx="164.7" cy="144.4" r="2.3"/><circle cx="100.8" cy="163.6" r="2.3"/><circle cx="94.4" cy="166.5" r="2.3"/><circle cx="148.7" cy="138.2" r="2.3"/><circle cx="91.2" cy="173.0" r="2.3"/><circle cx="81.6" cy="185.3" r="2.3"/><circle cx="132.7" cy="133.3" r="2.3"/><circle cx="158.3" cy="151.5" r="2.3"/><circle cx="129.6" cy="145.9" r="2.3"/><circle cx="126.4" cy="155.9" r="2.3"/><circle cx="88.0" cy="187.3" r="2.3"/><circle cx="132.6" cy="86.7" r="2.3"/><circle cx="116.7" cy="95.6" r="2.3"/><circle cx="103.7" cy="106.7" r="2.3"/><circle cx="78.1" cy="110.7" r="2.3"/><circle cx="129.6" cy="112.3" r="2.3"/><circle cx="138.5" cy="117.0" r="2.3"/><circle cx="110.4" cy="118.5" r="2.3"/><circle cx="113.3" cy="123.4" r="2.3"/><circle cx="123.4" cy="123.0" r="2.3"/><circle cx="132.6" cy="125.2" r="2.3"/><circle cx="136.3" cy="127.0" r="2.3"/><circle cx="91.1" cy="131.1" r="2.3"/><circle cx="120.0" cy="130.8" r="2.3"/><circle cx="113.3" cy="134.8" r="2.3"/><circle cx="129.6" cy="129.6" r="2.3"/><circle cx="142.7" cy="80.0" r="2.3"/><circle cx="203.4" cy="92.9" r="2.3"/><circle cx="215.6" cy="82.2" r="2.3"/><circle cx="184.4" cy="101.2" r="2.3"/><circle cx="164.4" cy="97.3" r="2.3"/><circle cx="168.1" cy="98.2" r="2.3"/><circle cx="161.5" cy="102.2" r="2.3"/><circle cx="155.6" cy="104.4" r="2.3"/><circle cx="151.1" cy="105.9" r="2.3"/><circle cx="161.5" cy="108.9" r="2.3"/><circle cx="154.8" cy="108.9" r="2.3"/><circle cx="184.4" cy="110.4" r="2.3"/><circle cx="168.1" cy="111.1" r="2.3"/><circle cx="148.9" cy="113.0" r="2.3"/><circle cx="142.7" cy="116.0" r="2.3"/><circle cx="171.1" cy="122.2" r="2.3"/><circle cx="180.7" cy="128.9" r="2.3"/><circle cx="187.4" cy="128.9" r="2.3"/><circle cx="171.1" cy="134.8" r="2.3"/><circle cx="160.7" cy="132.6" r="2.3"/><circle cx="216.0" cy="82.5" r="2.3"/><circle cx="219.3" cy="82.5" r="2.3"/><circle cx="223.0" cy="81.5" r="2.3"/><circle cx="238.2" cy="82.5" r="2.3"/><circle cx="222.5" cy="88.1" r="2.3"/><circle cx="216.3" cy="96.3" r="2.3"/><circle cx="180.4" cy="129.2" r="2.3"/><circle cx="187.0" cy="129.2" r="2.3"/><circle cx="171.2" cy="134.5" r="2.3"/><circle cx="164.8" cy="136.3" r="2.3"/><circle cx="164.8" cy="149.6" r="2.3"/><circle cx="155.2" cy="148.9" r="2.3"/><circle cx="158.1" cy="156.3" r="2.3"/><circle cx="145.6" cy="154.8" r="2.3"/><circle cx="164.1" cy="166.7" r="2.3"/><circle cx="135.9" cy="126.7" r="2.3"/><circle cx="74.7" cy="148.9" r="2.3"/><circle cx="74.7" cy="150.7" r="2.3"/><circle cx="62.3" cy="157.0" r="2.3"/><circle cx="78.4" cy="156.7" r="2.3"/><circle cx="68.6" cy="164.1" r="2.3"/><circle cx="64.5" cy="171.5" r="2.3"/><circle cx="62.7" cy="195.6" r="2.3"/><circle cx="59.0" cy="217.8" r="2.3"/></g><g fill="none" stroke="#ff1010" stroke-width="1.25"><circle cx="78.4" cy="190.5" r="2.3"/><circle cx="72.1" cy="198.3" r="2.3"/><circle cx="91.2" cy="183.7" r="2.3"/><circle cx="100.8" cy="200.5" r="2.3"/><circle cx="94.4" cy="173.5" r="2.3"/><circle cx="75.2" cy="197.4" r="2.3"/><circle cx="126.4" cy="169.5" r="2.3"/><circle cx="84.8" cy="183.9" r="2.3"/><circle cx="142.3" cy="161.2" r="2.3"/><circle cx="94.4" cy="178.2" r="2.3"/><circle cx="65.7" cy="207.2" r="2.3"/><circle cx="91.2" cy="204.1" r="2.3"/><circle cx="78.4" cy="204.3" r="2.3"/><circle cx="126.4" cy="133.0" r="2.3"/><circle cx="104.0" cy="194.1" r="2.3"/><circle cx="91.2" cy="173.1" r="2.3"/><circle cx="72.1" cy="210.1" r="2.3"/><circle cx="81.6" cy="199.0" r="2.3"/><circle cx="94.4" cy="174.8" r="2.3"/><circle cx="107.2" cy="186.9" r="2.3"/><circle cx="88.0" cy="191.0" r="2.3"/><circle cx="132.7" cy="129.1" r="2.3"/><circle cx="104.0" cy="165.1" r="2.3"/><circle cx="132.7" cy="141.2" r="2.3"/><circle cx="91.2" cy="179.6" r="2.3"/><circle cx="72.1" cy="204.0" r="2.3"/><circle cx="120.0" cy="173.0" r="2.3"/><circle cx="97.6" cy="171.1" r="2.3"/><circle cx="110.4" cy="188.5" r="2.3"/><circle cx="120.0" cy="176.9" r="2.3"/><circle cx="91.2" cy="212.5" r="2.3"/><circle cx="107.2" cy="171.6" r="2.3"/><circle cx="97.6" cy="169.5" r="2.3"/><circle cx="158.3" cy="137.4" r="2.3"/><circle cx="110.4" cy="180.3" r="2.3"/><circle cx="113.6" cy="165.5" r="2.3"/><circle cx="158.3" cy="128.8" r="2.3"/><circle cx="88.0" cy="206.4" r="2.3"/><circle cx="110.4" cy="185.3" r="2.3"/><circle cx="97.6" cy="174.9" r="2.3"/><circle cx="78.4" cy="212.1" r="2.3"/><circle cx="120.0" cy="138.9" r="2.3"/><circle cx="84.8" cy="194.6" r="2.3"/><circle cx="132.7" cy="169.6" r="2.3"/><circle cx="97.6" cy="183.5" r="2.3"/><circle cx="132.7" cy="138.5" r="2.3"/><circle cx="151.9" cy="146.7" r="2.3"/><circle cx="94.4" cy="191.4" r="2.3"/><circle cx="132.7" cy="163.4" r="2.3"/><circle cx="75.2" cy="213.6" r="2.3"/><circle cx="84.8" cy="197.3" r="2.3"/><circle cx="97.6" cy="169.6" r="2.3"/><circle cx="84.8" cy="199.1" r="2.3"/><circle cx="94.4" cy="174.8" r="2.3"/><circle cx="104.0" cy="189.3" r="2.3"/><circle cx="132.7" cy="166.9" r="2.3"/><circle cx="107.2" cy="177.4" r="2.3"/><circle cx="72.1" cy="198.1" r="2.3"/><circle cx="142.3" cy="133.8" r="2.3"/><circle cx="142.3" cy="119.5" r="2.3"/><circle cx="94.4" cy="164.8" r="2.3"/><circle cx="110.4" cy="159.6" r="2.3"/><circle cx="72.1" cy="196.7" r="2.3"/><circle cx="81.6" cy="210.0" r="2.3"/><circle cx="72.1" cy="203.4" r="2.3"/><circle cx="78.4" cy="185.4" r="2.3"/><circle cx="91.2" cy="171.5" r="2.3"/><circle cx="132.7" cy="150.9" r="2.3"/><circle cx="78.4" cy="196.7" r="2.3"/><circle cx="91.2" cy="207.8" r="2.3"/><circle cx="78.4" cy="199.8" r="2.3"/><circle cx="164.7" cy="126.9" r="2.3"/><circle cx="97.6" cy="187.3" r="2.3"/><circle cx="75.2" cy="197.4" r="2.3"/><circle cx="84.8" cy="183.3" r="2.3"/><circle cx="75.2" cy="195.1" r="2.3"/><circle cx="145.5" cy="115.4" r="2.3"/><circle cx="78.4" cy="204.6" r="2.3"/><circle cx="68.9" cy="193.6" r="2.3"/><circle cx="151.9" cy="127.1" r="2.3"/><circle cx="132.7" cy="128.6" r="2.3"/><circle cx="91.2" cy="199.0" r="2.3"/><circle cx="120.0" cy="183.5" r="2.3"/><circle cx="120.0" cy="179.6" r="2.3"/><circle cx="84.8" cy="195.0" r="2.3"/><circle cx="164.7" cy="121.9" r="2.3"/><circle cx="145.5" cy="131.1" r="2.3"/><circle cx="135.9" cy="151.0" r="2.3"/><circle cx="100.8" cy="175.3" r="2.3"/><circle cx="68.9" cy="222.0" r="2.3"/><circle cx="88.0" cy="200.3" r="2.3"/><circle cx="113.6" cy="156.9" r="2.3"/><circle cx="107.2" cy="203.8" r="2.3"/><circle cx="164.7" cy="130.4" r="2.3"/><circle cx="97.6" cy="201.6" r="2.3"/><circle cx="84.8" cy="189.3" r="2.3"/><circle cx="81.6" cy="208.2" r="2.3"/><circle cx="135.9" cy="168.2" r="2.3"/><circle cx="110.4" cy="192.5" r="2.3"/><circle cx="123.2" cy="157.7" r="2.3"/><circle cx="110.4" cy="148.5" r="2.3"/><circle cx="142.3" cy="151.5" r="2.3"/><circle cx="110.4" cy="175.1" r="2.3"/><circle cx="123.2" cy="165.7" r="2.3"/><circle cx="123.2" cy="150.3" r="2.3"/><circle cx="100.8" cy="179.7" r="2.3"/><circle cx="142.3" cy="180.4" r="2.3"/><circle cx="78.4" cy="207.8" r="2.3"/><circle cx="78.4" cy="209.4" r="2.3"/><circle cx="145.5" cy="137.8" r="2.3"/><circle cx="126.4" cy="158.1" r="2.3"/><circle cx="129.6" cy="127.1" r="2.3"/><circle cx="104.0" cy="174.7" r="2.3"/><circle cx="65.7" cy="215.4" r="2.3"/><circle cx="126.4" cy="194.0" r="2.3"/><circle cx="142.3" cy="135.7" r="2.3"/><circle cx="132.7" cy="135.7" r="2.3"/><circle cx="81.6" cy="212.8" r="2.3"/><circle cx="88.0" cy="189.9" r="2.3"/><circle cx="107.2" cy="158.6" r="2.3"/><circle cx="94.4" cy="207.9" r="2.3"/><circle cx="135.9" cy="167.1" r="2.3"/><circle cx="97.6" cy="184.3" r="2.3"/><circle cx="135.9" cy="163.4" r="2.3"/><circle cx="139.1" cy="148.3" r="2.3"/><circle cx="100.8" cy="157.2" r="2.3"/><circle cx="65.7" cy="200.8" r="2.3"/><circle cx="81.6" cy="187.8" r="2.3"/><circle cx="123.2" cy="159.6" r="2.3"/><circle cx="97.6" cy="174.4" r="2.3"/><circle cx="116.8" cy="182.1" r="2.3"/><circle cx="100.8" cy="177.6" r="2.3"/><circle cx="123.2" cy="175.2" r="2.3"/><circle cx="104.0" cy="179.4" r="2.3"/><circle cx="88.0" cy="192.2" r="2.3"/><circle cx="113.6" cy="162.9" r="2.3"/><circle cx="120.0" cy="135.4" r="2.3"/><circle cx="107.2" cy="179.4" r="2.3"/><circle cx="100.8" cy="200.0" r="2.3"/><circle cx="113.6" cy="154.7" r="2.3"/><circle cx="100.8" cy="191.3" r="2.3"/><circle cx="142.3" cy="162.9" r="2.3"/><circle cx="132.7" cy="142.7" r="2.3"/><circle cx="88.0" cy="196.2" r="2.3"/><circle cx="142.3" cy="143.1" r="2.3"/><circle cx="75.2" cy="192.7" r="2.3"/><circle cx="97.6" cy="167.7" r="2.3"/><circle cx="84.8" cy="199.5" r="2.3"/><circle cx="110.4" cy="161.2" r="2.3"/><circle cx="155.1" cy="100.9" r="2.3"/><circle cx="116.8" cy="150.8" r="2.3"/><circle cx="78.4" cy="215.4" r="2.3"/><circle cx="161.5" cy="119.6" r="2.3"/><circle cx="145.5" cy="138.4" r="2.3"/><circle cx="97.6" cy="179.7" r="2.3"/><circle cx="145.5" cy="145.1" r="2.3"/><circle cx="94.4" cy="188.6" r="2.3"/><circle cx="91.2" cy="181.9" r="2.3"/><circle cx="88.0" cy="172.0" r="2.3"/><circle cx="62.5" cy="208.8" r="2.3"/><circle cx="97.6" cy="201.1" r="2.3"/><circle cx="91.2" cy="171.0" r="2.3"/><circle cx="100.8" cy="185.3" r="2.3"/><circle cx="151.9" cy="172.8" r="2.3"/><circle cx="161.5" cy="157.6" r="2.3"/><circle cx="84.8" cy="205.8" r="2.3"/><circle cx="120.0" cy="193.5" r="2.3"/><circle cx="78.4" cy="190.3" r="2.3"/><circle cx="135.9" cy="167.8" r="2.3"/><circle cx="88.0" cy="197.4" r="2.3"/><circle cx="139.1" cy="178.3" r="2.3"/><circle cx="113.6" cy="187.6" r="2.3"/><circle cx="72.1" cy="197.1" r="2.3"/><circle cx="94.4" cy="182.6" r="2.3"/><circle cx="142.3" cy="160.7" r="2.3"/><circle cx="123.2" cy="153.2" r="2.3"/><circle cx="129.6" cy="181.4" r="2.3"/><circle cx="129.6" cy="129.2" r="2.3"/><circle cx="91.2" cy="187.5" r="2.3"/><circle cx="139.1" cy="143.8" r="2.3"/><circle cx="78.4" cy="205.5" r="2.3"/><circle cx="84.8" cy="185.3" r="2.3"/><circle cx="81.6" cy="215.1" r="2.3"/><circle cx="81.6" cy="190.8" r="2.3"/><circle cx="88.0" cy="187.5" r="2.3"/><circle cx="91.2" cy="208.7" r="2.3"/><circle cx="81.6" cy="194.6" r="2.3"/><circle cx="65.7" cy="202.1" r="2.3"/><circle cx="65.7" cy="223.0" r="2.3"/><circle cx="116.8" cy="178.1" r="2.3"/><circle cx="97.6" cy="167.2" r="2.3"/><circle cx="72.1" cy="202.2" r="2.3"/><circle cx="104.0" cy="159.6" r="2.3"/><circle cx="126.4" cy="150.1" r="2.3"/><circle cx="100.8" cy="178.1" r="2.3"/><circle cx="151.9" cy="159.9" r="2.3"/><circle cx="126.4" cy="178.6" r="2.3"/><circle cx="126.4" cy="171.6" r="2.3"/><circle cx="91.2" cy="201.4" r="2.3"/><circle cx="78.4" cy="207.8" r="2.3"/><circle cx="116.8" cy="180.1" r="2.3"/><circle cx="81.6" cy="178.4" r="2.3"/><circle cx="129.6" cy="142.3" r="2.3"/><circle cx="129.6" cy="134.7" r="2.3"/><circle cx="84.8" cy="201.8" r="2.3"/><circle cx="97.6" cy="197.8" r="2.3"/><circle cx="97.6" cy="166.3" r="2.3"/><circle cx="145.5" cy="148.0" r="2.3"/><circle cx="116.8" cy="177.2" r="2.3"/><circle cx="148.7" cy="132.5" r="2.3"/><circle cx="91.2" cy="194.6" r="2.3"/><circle cx="91.2" cy="169.4" r="2.3"/><circle cx="100.8" cy="203.9" r="2.3"/><circle cx="100.8" cy="198.8" r="2.3"/><circle cx="84.8" cy="176.6" r="2.3"/><circle cx="94.4" cy="192.0" r="2.3"/><circle cx="65.7" cy="213.3" r="2.3"/><circle cx="84.8" cy="188.3" r="2.3"/><circle cx="100.8" cy="190.9" r="2.3"/><circle cx="129.6" cy="184.3" r="2.3"/><circle cx="151.9" cy="138.3" r="2.3"/><circle cx="88.0" cy="189.2" r="2.3"/><circle cx="75.2" cy="195.1" r="2.3"/><circle cx="126.4" cy="163.2" r="2.3"/><circle cx="126.4" cy="132.3" r="2.3"/><circle cx="126.4" cy="181.4" r="2.3"/><circle cx="145.5" cy="147.1" r="2.3"/><circle cx="100.8" cy="184.6" r="2.3"/><circle cx="126.4" cy="183.5" r="2.3"/><circle cx="145.5" cy="162.7" r="2.3"/><circle cx="135.9" cy="147.3" r="2.3"/><circle cx="113.6" cy="192.6" r="2.3"/><circle cx="68.9" cy="215.4" r="2.3"/><circle cx="91.2" cy="202.6" r="2.3"/><circle cx="126.4" cy="163.5" r="2.3"/><circle cx="107.2" cy="202.3" r="2.3"/><circle cx="113.6" cy="179.2" r="2.3"/><circle cx="62.5" cy="223.1" r="2.3"/><circle cx="139.1" cy="128.9" r="2.3"/><circle cx="100.8" cy="169.2" r="2.3"/><circle cx="72.1" cy="205.5" r="2.3"/><circle cx="84.8" cy="203.5" r="2.3"/><circle cx="84.8" cy="204.7" r="2.3"/><circle cx="81.6" cy="209.3" r="2.3"/><circle cx="161.5" cy="138.9" r="2.3"/><circle cx="91.2" cy="197.8" r="2.3"/><circle cx="113.6" cy="180.2" r="2.3"/><circle cx="123.2" cy="158.6" r="2.3"/><circle cx="75.2" cy="211.7" r="2.3"/><circle cx="84.8" cy="215.4" r="2.3"/><circle cx="91.2" cy="194.7" r="2.3"/><circle cx="65.7" cy="214.9" r="2.3"/><circle cx="84.8" cy="189.7" r="2.3"/><circle cx="113.6" cy="169.3" r="2.3"/><circle cx="88.0" cy="179.9" r="2.3"/><circle cx="97.6" cy="169.5" r="2.3"/><circle cx="78.4" cy="187.5" r="2.3"/><circle cx="81.6" cy="202.7" r="2.3"/><circle cx="158.3" cy="147.4" r="2.3"/><circle cx="97.6" cy="182.5" r="2.3"/><circle cx="161.5" cy="107.9" r="2.3"/><circle cx="84.8" cy="193.5" r="2.3"/><circle cx="142.3" cy="149.5" r="2.3"/><circle cx="104.0" cy="170.5" r="2.3"/><circle cx="100.8" cy="188.8" r="2.3"/><circle cx="72.1" cy="217.3" r="2.3"/><circle cx="113.6" cy="172.2" r="2.3"/><circle cx="132.7" cy="123.2" r="2.3"/><circle cx="135.9" cy="161.8" r="2.3"/><circle cx="68.9" cy="194.1" r="2.3"/><circle cx="100.8" cy="181.6" r="2.3"/><circle cx="88.0" cy="179.6" r="2.3"/><circle cx="91.2" cy="174.5" r="2.3"/><circle cx="129.6" cy="179.1" r="2.3"/><circle cx="120.0" cy="181.5" r="2.3"/><circle cx="72.1" cy="194.0" r="2.3"/><circle cx="135.9" cy="170.7" r="2.3"/><circle cx="91.2" cy="175.8" r="2.3"/><circle cx="94.4" cy="169.8" r="2.3"/><circle cx="120.0" cy="180.2" r="2.3"/><circle cx="94.4" cy="203.4" r="2.3"/><circle cx="72.1" cy="218.6" r="2.3"/><circle cx="126.4" cy="144.5" r="2.3"/><circle cx="142.3" cy="175.0" r="2.3"/><circle cx="84.8" cy="188.9" r="2.3"/><circle cx="81.6" cy="206.6" r="2.3"/><circle cx="145.5" cy="178.9" r="2.3"/><circle cx="145.5" cy="150.9" r="2.3"/><circle cx="139.1" cy="138.9" r="2.3"/><circle cx="116.8" cy="156.1" r="2.3"/><circle cx="65.7" cy="219.3" r="2.3"/><circle cx="107.2" cy="174.3" r="2.3"/><circle cx="126.4" cy="184.0" r="2.3"/><circle cx="72.1" cy="196.1" r="2.3"/><circle cx="72.1" cy="216.1" r="2.3"/><circle cx="91.2" cy="201.3" r="2.3"/><circle cx="116.8" cy="164.3" r="2.3"/><circle cx="88.0" cy="183.8" r="2.3"/><circle cx="88.0" cy="179.4" r="2.3"/><circle cx="94.4" cy="177.1" r="2.3"/><circle cx="81.6" cy="186.1" r="2.3"/><circle cx="135.9" cy="127.7" r="2.3"/><circle cx="84.8" cy="202.5" r="2.3"/><circle cx="164.7" cy="141.7" r="2.3"/><circle cx="78.4" cy="193.2" r="2.3"/><circle cx="75.2" cy="212.4" r="2.3"/><circle cx="75.2" cy="201.0" r="2.3"/><circle cx="84.8" cy="202.4" r="2.3"/><circle cx="132.7" cy="149.6" r="2.3"/><circle cx="104.0" cy="169.4" r="2.3"/><circle cx="100.8" cy="193.6" r="2.3"/><circle cx="91.2" cy="185.6" r="2.3"/><circle cx="88.0" cy="200.4" r="2.3"/><circle cx="72.1" cy="192.6" r="2.3"/><circle cx="110.4" cy="190.0" r="2.3"/><circle cx="81.6" cy="195.6" r="2.3"/><circle cx="84.8" cy="191.7" r="2.3"/><circle cx="97.6" cy="170.4" r="2.3"/><circle cx="148.7" cy="148.8" r="2.3"/><circle cx="62.5" cy="226.2" r="2.3"/><circle cx="116.8" cy="167.6" r="2.3"/><circle cx="110.4" cy="187.9" r="2.3"/><circle cx="59.3" cy="211.0" r="2.3"/><circle cx="139.1" cy="151.1" r="2.3"/><circle cx="148.7" cy="141.1" r="2.3"/><circle cx="84.8" cy="188.1" r="2.3"/><circle cx="78.4" cy="202.0" r="2.3"/><circle cx="113.6" cy="162.0" r="2.3"/><circle cx="135.9" cy="134.0" r="2.3"/><circle cx="120.0" cy="150.9" r="2.3"/><circle cx="104.0" cy="175.0" r="2.3"/><circle cx="123.2" cy="184.9" r="2.3"/><circle cx="139.1" cy="149.2" r="2.3"/><circle cx="88.0" cy="196.5" r="2.3"/><circle cx="84.8" cy="174.8" r="2.3"/><circle cx="113.6" cy="152.5" r="2.3"/><circle cx="72.1" cy="200.8" r="2.3"/><circle cx="104.0" cy="169.9" r="2.3"/><circle cx="84.8" cy="185.7" r="2.3"/><circle cx="65.7" cy="216.3" r="2.3"/><circle cx="97.6" cy="185.2" r="2.3"/><circle cx="126.4" cy="161.7" r="2.3"/><circle cx="110.4" cy="169.3" r="2.3"/><circle cx="84.8" cy="196.8" r="2.3"/><circle cx="132.7" cy="156.4" r="2.3"/><circle cx="65.7" cy="218.5" r="2.3"/><circle cx="113.6" cy="160.3" r="2.3"/><circle cx="84.8" cy="189.9" r="2.3"/><circle cx="139.1" cy="159.1" r="2.3"/><circle cx="68.9" cy="210.6" r="2.3"/><circle cx="94.4" cy="196.8" r="2.3"/><circle cx="81.6" cy="195.4" r="2.3"/><circle cx="135.9" cy="155.6" r="2.3"/><circle cx="81.6" cy="212.3" r="2.3"/><circle cx="91.2" cy="207.3" r="2.3"/><circle cx="84.8" cy="190.7" r="2.3"/><circle cx="120.0" cy="167.6" r="2.3"/><circle cx="145.5" cy="137.7" r="2.3"/><circle cx="81.6" cy="200.0" r="2.3"/><circle cx="94.4" cy="173.2" r="2.3"/><circle cx="142.3" cy="161.0" r="2.3"/><circle cx="94.4" cy="193.3" r="2.3"/><circle cx="148.7" cy="120.4" r="2.3"/><circle cx="72.1" cy="205.4" r="2.3"/><circle cx="94.4" cy="170.4" r="2.3"/><circle cx="151.9" cy="121.5" r="2.3"/><circle cx="164.7" cy="103.7" r="2.3"/><circle cx="94.4" cy="170.8" r="2.3"/><circle cx="142.3" cy="150.4" r="2.3"/><circle cx="62.5" cy="214.0" r="2.3"/><circle cx="91.2" cy="187.3" r="2.3"/><circle cx="91.2" cy="190.1" r="2.3"/><circle cx="62.5" cy="215.3" r="2.3"/><circle cx="91.2" cy="171.0" r="2.3"/><circle cx="72.1" cy="211.4" r="2.3"/><circle cx="81.6" cy="203.3" r="2.3"/><circle cx="126.4" cy="150.6" r="2.3"/><circle cx="104.0" cy="199.2" r="2.3"/><circle cx="97.6" cy="177.0" r="2.3"/><circle cx="139.1" cy="143.7" r="2.3"/><circle cx="91.2" cy="178.9" r="2.3"/><circle cx="62.5" cy="213.7" r="2.3"/><circle cx="126.4" cy="178.2" r="2.3"/><circle cx="62.5" cy="208.2" r="2.3"/><circle cx="72.1" cy="214.8" r="2.3"/><circle cx="84.8" cy="183.7" r="2.3"/><circle cx="155.1" cy="119.8" r="2.3"/><circle cx="84.8" cy="190.1" r="2.3"/><circle cx="123.2" cy="142.1" r="2.3"/><circle cx="116.8" cy="182.6" r="2.3"/><circle cx="88.0" cy="207.2" r="2.3"/><circle cx="120.0" cy="155.5" r="2.3"/><circle cx="126.4" cy="133.3" r="2.3"/><circle cx="62.5" cy="207.4" r="2.3"/><circle cx="97.6" cy="192.4" r="2.3"/><circle cx="158.3" cy="142.9" r="2.3"/><circle cx="84.8" cy="202.3" r="2.3"/><circle cx="100.8" cy="199.1" r="2.3"/><circle cx="78.4" cy="203.4" r="2.3"/><circle cx="135.9" cy="122.1" r="2.3"/><circle cx="142.3" cy="121.5" r="2.3"/><circle cx="88.0" cy="194.3" r="2.3"/><circle cx="91.2" cy="191.7" r="2.3"/><circle cx="68.9" cy="204.8" r="2.3"/><circle cx="120.0" cy="169.9" r="2.3"/><circle cx="72.1" cy="194.8" r="2.3"/><circle cx="104.0" cy="198.9" r="2.3"/><circle cx="151.9" cy="154.3" r="2.3"/><circle cx="164.7" cy="122.6" r="2.3"/><circle cx="75.2" cy="211.0" r="2.3"/><circle cx="100.8" cy="178.7" r="2.3"/><circle cx="107.2" cy="194.0" r="2.3"/><circle cx="94.4" cy="186.3" r="2.3"/><circle cx="113.6" cy="182.1" r="2.3"/><circle cx="148.7" cy="157.5" r="2.3"/><circle cx="78.4" cy="198.2" r="2.3"/><circle cx="91.2" cy="201.0" r="2.3"/><circle cx="91.2" cy="184.7" r="2.3"/><circle cx="81.6" cy="191.2" r="2.3"/><circle cx="84.8" cy="175.0" r="2.3"/><circle cx="132.7" cy="138.9" r="2.3"/><circle cx="88.0" cy="176.5" r="2.3"/><circle cx="158.3" cy="122.9" r="2.3"/><circle cx="84.8" cy="196.7" r="2.3"/><circle cx="129.6" cy="183.4" r="2.3"/><circle cx="68.9" cy="222.9" r="2.3"/><circle cx="126.4" cy="159.8" r="2.3"/><circle cx="155.1" cy="134.5" r="2.3"/><circle cx="88.0" cy="205.2" r="2.3"/><circle cx="81.6" cy="192.7" r="2.3"/><circle cx="116.7" cy="86.4" r="2.3"/><circle cx="97.5" cy="97.5" r="2.3"/><circle cx="132.6" cy="104.7" r="2.3"/><circle cx="120.0" cy="112.1" r="2.3"/><circle cx="94.4" cy="123.0" r="2.3"/><circle cx="103.9" cy="129.3" r="2.3"/><circle cx="116.7" cy="123.7" r="2.3"/><circle cx="126.7" cy="125.9" r="2.3"/><circle cx="113.6" cy="132.6" r="2.3"/><circle cx="123.7" cy="136.3" r="2.3"/><circle cx="136.3" cy="136.3" r="2.3"/><circle cx="180.7" cy="83.4" r="2.3"/><circle cx="148.9" cy="99.7" r="2.3"/><circle cx="148.9" cy="104.4" r="2.3"/><circle cx="161.5" cy="100.7" r="2.3"/><circle cx="171.1" cy="103.0" r="2.3"/><circle cx="167.4" cy="105.2" r="2.3"/><circle cx="171.1" cy="108.1" r="2.3"/><circle cx="187.4" cy="121.5" r="2.3"/><circle cx="203.4" cy="128.4" r="2.3"/><circle cx="218.5" cy="123.4" r="2.3"/><circle cx="144.4" cy="122.2" r="2.3"/><circle cx="151.9" cy="117.8" r="2.3"/><circle cx="222.2" cy="78.5" r="2.3"/><circle cx="222.2" cy="80.7" r="2.3"/><circle cx="216.0" cy="96.3" r="2.3"/><circle cx="238.2" cy="99.3" r="2.3"/><circle cx="222.2" cy="104.4" r="2.3"/><circle cx="216.0" cy="108.6" r="2.3"/><circle cx="219.0" cy="123.4" r="2.3"/><circle cx="187.0" cy="122.2" r="2.3"/><circle cx="184.1" cy="146.7" r="2.3"/><circle cx="184.1" cy="149.6" r="2.3"/><circle cx="171.2" cy="144.4" r="2.3"/><circle cx="161.1" cy="142.2" r="2.3"/><circle cx="164.8" cy="168.9" r="2.3"/><circle cx="152.2" cy="167.4" r="2.3"/><circle cx="152.2" cy="170.4" r="2.3"/><circle cx="147.8" cy="164.4" r="2.3"/><circle cx="142.6" cy="160.7" r="2.3"/><circle cx="141.9" cy="133.3" r="2.3"/><circle cx="142.6" cy="125.9" r="2.3"/><circle cx="59.0" cy="215.9" r="2.3"/><circle cx="69.1" cy="222.4" r="2.3"/><circle cx="80.3" cy="216.9" r="2.3"/><circle cx="87.7" cy="215.0" r="2.3"/><circle cx="94.1" cy="211.3" r="2.3"/></g><line x1="46.50" y1="238.20" x2="270.10" y2="8.60" stroke="#1a1a1a" stroke-width="1.3" stroke-dasharray="6 3.4"/></g><g stroke="#6e6e6e" stroke-width="1" fill="none"><line x1="78.44" y1="238.20" x2="78.44" y2="235.80"/><line x1="78.44" y1="8.60" x2="78.44" y2="11.00"/><line x1="46.50" y1="205.40" x2="48.90" y2="205.40"/><line x1="270.10" y1="205.40" x2="267.70" y2="205.40"/><line x1="110.39" y1="238.20" x2="110.39" y2="235.80"/><line x1="110.39" y1="8.60" x2="110.39" y2="11.00"/><line x1="46.50" y1="172.60" x2="48.90" y2="172.60"/><line x1="270.10" y1="172.60" x2="267.70" y2="172.60"/><line x1="142.33" y1="238.20" x2="142.33" y2="235.80"/><line x1="142.33" y1="8.60" x2="142.33" y2="11.00"/><line x1="46.50" y1="139.80" x2="48.90" y2="139.80"/><line x1="270.10" y1="139.80" x2="267.70" y2="139.80"/><line x1="174.27" y1="238.20" x2="174.27" y2="235.80"/><line x1="174.27" y1="8.60" x2="174.27" y2="11.00"/><line x1="46.50" y1="107.00" x2="48.90" y2="107.00"/><line x1="270.10" y1="107.00" x2="267.70" y2="107.00"/><line x1="206.21" y1="238.20" x2="206.21" y2="235.80"/><line x1="206.21" y1="8.60" x2="206.21" y2="11.00"/><line x1="46.50" y1="74.20" x2="48.90" y2="74.20"/><line x1="270.10" y1="74.20" x2="267.70" y2="74.20"/><line x1="238.16" y1="238.20" x2="238.16" y2="235.80"/><line x1="238.16" y1="8.60" x2="238.16" y2="11.00"/><line x1="46.50" y1="41.40" x2="48.90" y2="41.40"/><line x1="270.10" y1="41.40" x2="267.70" y2="41.40"/><rect x="46.50" y="8.60" width="223.60" height="229.60"/></g><g font-family="Liberation Serif" font-size="12.4" fill="#262626" stroke="#262626" stroke-width="0.2"><text x="41.50" y="243.20" text-anchor="end">0</text><text x="46.50" y="255.10" text-anchor="middle">0</text><text x="41.50" y="210.40" text-anchor="end">10</text><text x="78.44" y="255.10" text-anchor="middle">10</text><text x="41.50" y="177.60" text-anchor="end">20</text><text x="110.39" y="255.10" text-anchor="middle">20</text><text x="41.50" y="144.80" text-anchor="end">30</text><text x="142.33" y="255.10" text-anchor="middle">30</text><text x="41.50" y="112.00" text-anchor="end">40</text><text x="174.27" y="255.10" text-anchor="middle">40</text><text x="41.50" y="79.20" text-anchor="end">50</text><text x="206.21" y="255.10" text-anchor="middle">50</text><text x="41.50" y="46.40" text-anchor="end">60</text><text x="238.16" y="255.10" text-anchor="middle">60</text><text x="41.50" y="13.60" text-anchor="end">70</text><text x="270.10" y="255.10" text-anchor="middle">70</text></g><clipPath id="cb"><rect x="311.0" y="9.2" width="225.10000000000002" height="230.20000000000002"/></clipPath><g clip-path="url(#cb)"><g fill="none" stroke="#00e040" stroke-width="1.25"><circle cx="359.8" cy="170.2" r="2.3"/><circle cx="357.9" cy="183.5" r="2.3"/><circle cx="402.9" cy="148.0" r="2.3"/><circle cx="359.8" cy="181.7" r="2.3"/><circle cx="350.4" cy="161.2" r="2.3"/><circle cx="365.4" cy="191.8" r="2.3"/><circle cx="371.0" cy="173.0" r="2.3"/><circle cx="367.3" cy="186.0" r="2.3"/><circle cx="391.7" cy="148.4" r="2.3"/><circle cx="357.9" cy="181.6" r="2.3"/><circle cx="348.5" cy="177.5" r="2.3"/><circle cx="369.2" cy="189.3" r="2.3"/><circle cx="410.4" cy="182.6" r="2.3"/><circle cx="384.2" cy="162.7" r="2.3"/><circle cx="382.3" cy="169.3" r="2.3"/><circle cx="361.6" cy="166.9" r="2.3"/><circle cx="342.9" cy="179.6" r="2.3"/><circle cx="384.2" cy="145.2" r="2.3"/><circle cx="393.5" cy="172.8" r="2.3"/><circle cx="361.6" cy="180.1" r="2.3"/><circle cx="372.9" cy="175.5" r="2.3"/><circle cx="401.0" cy="176.3" r="2.3"/><circle cx="361.6" cy="184.5" r="2.3"/><circle cx="384.2" cy="167.6" r="2.3"/><circle cx="361.6" cy="162.6" r="2.3"/><circle cx="386.0" cy="176.6" r="2.3"/><circle cx="341.0" cy="186.0" r="2.3"/><circle cx="387.9" cy="168.1" r="2.3"/><circle cx="378.5" cy="168.1" r="2.3"/><circle cx="354.1" cy="181.0" r="2.3"/><circle cx="354.1" cy="171.9" r="2.3"/><circle cx="369.2" cy="185.4" r="2.3"/><circle cx="357.9" cy="161.3" r="2.3"/><circle cx="365.4" cy="168.3" r="2.3"/><circle cx="354.1" cy="178.1" r="2.3"/><circle cx="397.3" cy="164.6" r="2.3"/><circle cx="374.8" cy="194.2" r="2.3"/><circle cx="361.6" cy="191.7" r="2.3"/><circle cx="391.7" cy="164.2" r="2.3"/><circle cx="352.3" cy="153.4" r="2.3"/><circle cx="354.1" cy="175.6" r="2.3"/><circle cx="397.3" cy="170.5" r="2.3"/><circle cx="395.4" cy="156.5" r="2.3"/><circle cx="361.6" cy="166.7" r="2.3"/><circle cx="369.2" cy="190.3" r="2.3"/><circle cx="367.3" cy="160.6" r="2.3"/><circle cx="337.3" cy="190.3" r="2.3"/><circle cx="386.0" cy="189.8" r="2.3"/><circle cx="387.9" cy="174.6" r="2.3"/><circle cx="363.5" cy="183.0" r="2.3"/><circle cx="369.2" cy="162.8" r="2.3"/><circle cx="402.9" cy="187.1" r="2.3"/><circle cx="352.3" cy="183.7" r="2.3"/><circle cx="348.5" cy="187.8" r="2.3"/><circle cx="378.5" cy="158.4" r="2.3"/><circle cx="365.4" cy="158.5" r="2.3"/><circle cx="386.0" cy="186.5" r="2.3"/><circle cx="357.9" cy="178.3" r="2.3"/><circle cx="410.4" cy="160.5" r="2.3"/><circle cx="352.3" cy="171.1" r="2.3"/><circle cx="372.9" cy="175.1" r="2.3"/><circle cx="412.3" cy="165.9" r="2.3"/><circle cx="346.6" cy="178.9" r="2.3"/><circle cx="333.5" cy="164.8" r="2.3"/><circle cx="369.2" cy="177.7" r="2.3"/><circle cx="363.5" cy="186.3" r="2.3"/><circle cx="346.6" cy="164.8" r="2.3"/><circle cx="408.5" cy="167.5" r="2.3"/><circle cx="339.1" cy="177.9" r="2.3"/><circle cx="391.7" cy="154.4" r="2.3"/><circle cx="363.5" cy="168.8" r="2.3"/><circle cx="367.3" cy="174.6" r="2.3"/><circle cx="346.6" cy="170.8" r="2.3"/><circle cx="369.2" cy="170.9" r="2.3"/><circle cx="346.6" cy="175.6" r="2.3"/><circle cx="393.5" cy="169.7" r="2.3"/><circle cx="352.3" cy="175.3" r="2.3"/><circle cx="339.1" cy="157.1" r="2.3"/><circle cx="384.2" cy="153.5" r="2.3"/><circle cx="404.8" cy="191.5" r="2.3"/><circle cx="386.0" cy="179.7" r="2.3"/><circle cx="384.2" cy="160.5" r="2.3"/><circle cx="356.0" cy="184.5" r="2.3"/><circle cx="339.1" cy="187.8" r="2.3"/><circle cx="378.5" cy="194.8" r="2.3"/><circle cx="335.4" cy="177.3" r="2.3"/><circle cx="337.3" cy="168.7" r="2.3"/><circle cx="384.2" cy="186.4" r="2.3"/><circle cx="393.5" cy="153.2" r="2.3"/><circle cx="371.0" cy="167.4" r="2.3"/><circle cx="350.4" cy="171.4" r="2.3"/><circle cx="365.4" cy="156.8" r="2.3"/><circle cx="337.3" cy="165.9" r="2.3"/><circle cx="404.8" cy="182.1" r="2.3"/><circle cx="382.3" cy="193.7" r="2.3"/><circle cx="361.6" cy="192.0" r="2.3"/><circle cx="348.5" cy="168.7" r="2.3"/><circle cx="363.5" cy="178.0" r="2.3"/><circle cx="357.9" cy="173.7" r="2.3"/><circle cx="408.5" cy="172.8" r="2.3"/><circle cx="389.8" cy="195.3" r="2.3"/><circle cx="339.1" cy="171.0" r="2.3"/><circle cx="352.3" cy="183.6" r="2.3"/><circle cx="344.8" cy="180.2" r="2.3"/><circle cx="367.3" cy="163.9" r="2.3"/><circle cx="357.9" cy="166.6" r="2.3"/><circle cx="372.9" cy="180.6" r="2.3"/><circle cx="339.1" cy="179.9" r="2.3"/><circle cx="350.4" cy="176.9" r="2.3"/><circle cx="369.2" cy="172.4" r="2.3"/><circle cx="357.9" cy="199.3" r="2.3"/><circle cx="356.0" cy="162.1" r="2.3"/><circle cx="337.3" cy="196.1" r="2.3"/><circle cx="352.3" cy="169.1" r="2.3"/><circle cx="363.5" cy="160.5" r="2.3"/><circle cx="410.4" cy="186.2" r="2.3"/><circle cx="374.8" cy="192.3" r="2.3"/><circle cx="374.8" cy="165.3" r="2.3"/><circle cx="369.2" cy="174.8" r="2.3"/><circle cx="356.0" cy="167.0" r="2.3"/><circle cx="340.4" cy="151.1" r="2.3"/><circle cx="344.8" cy="154.1" r="2.3"/><circle cx="348.5" cy="155.6" r="2.3"/><circle cx="364.1" cy="145.2" r="2.3"/><circle cx="500.4" cy="141.7" r="2.3"/><circle cx="496.7" cy="147.2" r="2.3"/><circle cx="509.6" cy="148.5" r="2.3"/><circle cx="523.1" cy="155.2" r="2.3"/><circle cx="460.9" cy="147.8" r="2.3"/><circle cx="459.1" cy="153.7" r="2.3"/><circle cx="466.5" cy="154.1" r="2.3"/><circle cx="442.2" cy="146.7" r="2.3"/><circle cx="438.5" cy="158.7" r="2.3"/><circle cx="458.9" cy="147.6" r="2.3"/><circle cx="458.9" cy="153.1" r="2.3"/><circle cx="429.3" cy="179.6" r="2.3"/><circle cx="442.2" cy="176.3" r="2.3"/><circle cx="420.9" cy="177.8" r="2.3"/><circle cx="416.3" cy="188.9" r="2.3"/><circle cx="404.3" cy="185.9" r="2.3"/><circle cx="400.6" cy="194.8" r="2.3"/><circle cx="400.6" cy="204.4" r="2.3"/><circle cx="409.8" cy="175.4" r="2.3"/><circle cx="425.6" cy="155.0" r="2.3"/><circle cx="433.0" cy="155.0" r="2.3"/><circle cx="374.3" cy="220.0" r="2.3"/><circle cx="377.7" cy="200.0" r="2.3"/><circle cx="332.7" cy="215.0" r="2.3"/><circle cx="341.0" cy="161.7" r="2.3"/></g><g fill="none" stroke="#2020e0" stroke-width="1.25"><circle cx="363.5" cy="147.4" r="2.3"/><circle cx="369.2" cy="160.2" r="2.3"/><circle cx="357.9" cy="167.0" r="2.3"/><circle cx="363.5" cy="172.4" r="2.3"/><circle cx="371.0" cy="172.3" r="2.3"/><circle cx="402.9" cy="131.4" r="2.3"/><circle cx="395.4" cy="132.4" r="2.3"/><circle cx="342.9" cy="189.7" r="2.3"/><circle cx="397.3" cy="134.6" r="2.3"/><circle cx="367.3" cy="160.3" r="2.3"/><circle cx="399.2" cy="134.1" r="2.3"/><circle cx="359.8" cy="156.2" r="2.3"/><circle cx="369.2" cy="146.1" r="2.3"/><circle cx="372.9" cy="136.1" r="2.3"/><circle cx="361.6" cy="175.6" r="2.3"/><circle cx="401.0" cy="118.4" r="2.3"/><circle cx="389.8" cy="143.9" r="2.3"/><circle cx="416.0" cy="108.9" r="2.3"/><circle cx="356.0" cy="173.3" r="2.3"/><circle cx="352.3" cy="195.6" r="2.3"/><circle cx="342.9" cy="203.4" r="2.3"/><circle cx="376.7" cy="163.2" r="2.3"/><circle cx="357.9" cy="176.5" r="2.3"/><circle cx="352.3" cy="196.9" r="2.3"/><circle cx="374.8" cy="161.3" r="2.3"/><circle cx="350.4" cy="199.4" r="2.3"/><circle cx="350.4" cy="190.4" r="2.3"/><circle cx="386.0" cy="160.4" r="2.3"/><circle cx="339.1" cy="181.0" r="2.3"/><circle cx="363.5" cy="143.1" r="2.3"/><circle cx="359.8" cy="187.1" r="2.3"/><circle cx="393.5" cy="153.3" r="2.3"/><circle cx="401.0" cy="132.4" r="2.3"/><circle cx="342.9" cy="183.3" r="2.3"/><circle cx="393.5" cy="139.4" r="2.3"/><circle cx="401.0" cy="138.3" r="2.3"/><circle cx="352.3" cy="152.7" r="2.3"/><circle cx="391.7" cy="137.0" r="2.3"/><circle cx="352.3" cy="196.2" r="2.3"/><circle cx="357.9" cy="176.5" r="2.3"/><circle cx="344.8" cy="179.2" r="2.3"/><circle cx="354.1" cy="179.4" r="2.3"/><circle cx="356.0" cy="168.4" r="2.3"/><circle cx="359.8" cy="180.1" r="2.3"/><circle cx="356.0" cy="181.0" r="2.3"/><circle cx="346.6" cy="164.9" r="2.3"/><circle cx="401.0" cy="147.0" r="2.3"/><circle cx="401.0" cy="126.1" r="2.3"/><circle cx="348.5" cy="202.1" r="2.3"/><circle cx="382.3" cy="143.3" r="2.3"/><circle cx="342.9" cy="182.2" r="2.3"/><circle cx="382.3" cy="137.2" r="2.3"/><circle cx="374.8" cy="166.1" r="2.3"/><circle cx="346.6" cy="187.0" r="2.3"/><circle cx="374.8" cy="168.5" r="2.3"/><circle cx="344.8" cy="199.0" r="2.3"/><circle cx="378.5" cy="165.2" r="2.3"/><circle cx="361.6" cy="162.3" r="2.3"/><circle cx="404.8" cy="145.7" r="2.3"/><circle cx="376.7" cy="146.2" r="2.3"/><circle cx="354.1" cy="171.7" r="2.3"/><circle cx="352.3" cy="168.8" r="2.3"/><circle cx="395.4" cy="116.1" r="2.3"/><circle cx="342.9" cy="186.7" r="2.3"/><circle cx="359.8" cy="160.2" r="2.3"/><circle cx="380.4" cy="166.4" r="2.3"/><circle cx="376.7" cy="158.2" r="2.3"/><circle cx="335.4" cy="180.8" r="2.3"/><circle cx="342.9" cy="191.4" r="2.3"/><circle cx="354.1" cy="188.3" r="2.3"/><circle cx="341.0" cy="171.9" r="2.3"/><circle cx="401.0" cy="134.3" r="2.3"/><circle cx="346.6" cy="196.3" r="2.3"/><circle cx="389.8" cy="155.3" r="2.3"/><circle cx="363.5" cy="172.4" r="2.3"/><circle cx="344.8" cy="199.4" r="2.3"/><circle cx="399.2" cy="140.8" r="2.3"/><circle cx="369.2" cy="135.7" r="2.3"/><circle cx="354.1" cy="164.1" r="2.3"/><circle cx="352.3" cy="179.2" r="2.3"/><circle cx="354.1" cy="179.3" r="2.3"/><circle cx="361.6" cy="181.5" r="2.3"/><circle cx="391.7" cy="161.3" r="2.3"/><circle cx="386.0" cy="152.8" r="2.3"/><circle cx="374.8" cy="148.5" r="2.3"/><circle cx="356.0" cy="173.4" r="2.3"/><circle cx="356.0" cy="164.2" r="2.3"/><circle cx="378.5" cy="154.0" r="2.3"/><circle cx="365.4" cy="168.8" r="2.3"/><circle cx="337.3" cy="200.3" r="2.3"/><circle cx="380.4" cy="147.5" r="2.3"/><circle cx="352.3" cy="158.4" r="2.3"/><circle cx="337.3" cy="184.7" r="2.3"/><circle cx="397.3" cy="144.7" r="2.3"/><circle cx="350.4" cy="200.7" r="2.3"/><circle cx="372.9" cy="154.9" r="2.3"/><circle cx="384.2" cy="144.5" r="2.3"/><circle cx="395.4" cy="149.9" r="2.3"/><circle cx="359.8" cy="161.8" r="2.3"/><circle cx="387.9" cy="146.4" r="2.3"/><circle cx="391.7" cy="150.0" r="2.3"/><circle cx="365.4" cy="138.3" r="2.3"/><circle cx="357.9" cy="164.6" r="2.3"/><circle cx="350.4" cy="191.6" r="2.3"/><circle cx="342.9" cy="183.5" r="2.3"/><circle cx="404.8" cy="141.5" r="2.3"/><circle cx="374.8" cy="137.1" r="2.3"/><circle cx="361.6" cy="141.3" r="2.3"/><circle cx="386.0" cy="140.8" r="2.3"/><circle cx="363.5" cy="181.1" r="2.3"/><circle cx="363.5" cy="148.0" r="2.3"/><circle cx="414.2" cy="112.8" r="2.3"/><circle cx="384.2" cy="140.1" r="2.3"/><circle cx="372.9" cy="153.1" r="2.3"/><circle cx="372.9" cy="151.9" r="2.3"/><circle cx="352.3" cy="188.1" r="2.3"/><circle cx="374.8" cy="162.9" r="2.3"/><circle cx="371.0" cy="177.1" r="2.3"/><circle cx="361.6" cy="164.9" r="2.3"/><circle cx="378.5" cy="151.6" r="2.3"/><circle cx="356.0" cy="166.0" r="2.3"/><circle cx="369.2" cy="143.7" r="2.3"/><circle cx="367.3" cy="164.0" r="2.3"/><circle cx="344.8" cy="192.4" r="2.3"/><circle cx="378.5" cy="147.9" r="2.3"/><circle cx="387.9" cy="142.5" r="2.3"/><circle cx="380.4" cy="143.5" r="2.3"/><circle cx="344.8" cy="170.6" r="2.3"/><circle cx="359.8" cy="172.6" r="2.3"/><circle cx="357.9" cy="174.4" r="2.3"/><circle cx="380.4" cy="163.2" r="2.3"/><circle cx="380.4" cy="158.1" r="2.3"/><circle cx="382.3" cy="171.0" r="2.3"/><circle cx="359.8" cy="171.9" r="2.3"/><circle cx="337.3" cy="198.6" r="2.3"/><circle cx="397.3" cy="135.5" r="2.3"/><circle cx="363.5" cy="182.9" r="2.3"/><circle cx="382.3" cy="142.6" r="2.3"/><circle cx="384.2" cy="143.8" r="2.3"/><circle cx="376.7" cy="162.7" r="2.3"/><circle cx="386.0" cy="145.5" r="2.3"/><circle cx="350.4" cy="192.3" r="2.3"/><circle cx="391.7" cy="151.9" r="2.3"/><circle cx="386.0" cy="123.9" r="2.3"/><circle cx="350.4" cy="168.7" r="2.3"/><circle cx="357.9" cy="191.9" r="2.3"/><circle cx="342.9" cy="182.5" r="2.3"/><circle cx="359.8" cy="154.4" r="2.3"/><circle cx="359.8" cy="180.9" r="2.3"/><circle cx="339.1" cy="196.1" r="2.3"/><circle cx="356.0" cy="172.3" r="2.3"/><circle cx="369.2" cy="157.6" r="2.3"/><circle cx="401.0" cy="121.0" r="2.3"/><circle cx="382.3" cy="172.2" r="2.3"/><circle cx="372.9" cy="137.1" r="2.3"/><circle cx="389.8" cy="152.8" r="2.3"/><circle cx="374.8" cy="139.6" r="2.3"/><circle cx="359.8" cy="158.0" r="2.3"/><circle cx="357.9" cy="162.0" r="2.3"/><circle cx="359.8" cy="167.6" r="2.3"/><circle cx="391.7" cy="130.3" r="2.3"/><circle cx="357.9" cy="188.4" r="2.3"/><circle cx="344.8" cy="192.3" r="2.3"/><circle cx="378.5" cy="165.6" r="2.3"/><circle cx="382.3" cy="151.4" r="2.3"/><circle cx="382.3" cy="150.0" r="2.3"/><circle cx="365.4" cy="157.5" r="2.3"/><circle cx="356.0" cy="160.9" r="2.3"/><circle cx="356.0" cy="172.6" r="2.3"/><circle cx="352.3" cy="171.9" r="2.3"/><circle cx="412.3" cy="116.6" r="2.3"/><circle cx="406.7" cy="117.9" r="2.3"/><circle cx="348.5" cy="173.6" r="2.3"/><circle cx="386.0" cy="148.5" r="2.3"/><circle cx="380.4" cy="166.1" r="2.3"/><circle cx="361.6" cy="181.6" r="2.3"/><circle cx="365.4" cy="172.6" r="2.3"/><circle cx="356.0" cy="147.5" r="2.3"/><circle cx="380.4" cy="158.0" r="2.3"/><circle cx="378.5" cy="142.5" r="2.3"/><circle cx="341.0" cy="172.8" r="2.3"/><circle cx="371.0" cy="178.6" r="2.3"/><circle cx="374.8" cy="144.3" r="2.3"/><circle cx="354.1" cy="190.6" r="2.3"/><circle cx="359.8" cy="145.5" r="2.3"/><circle cx="399.2" cy="149.5" r="2.3"/><circle cx="374.8" cy="168.7" r="2.3"/><circle cx="363.5" cy="153.5" r="2.3"/><circle cx="341.0" cy="198.6" r="2.3"/><circle cx="367.3" cy="148.1" r="2.3"/><circle cx="352.3" cy="175.8" r="2.3"/><circle cx="341.0" cy="206.8" r="2.3"/><circle cx="354.1" cy="157.6" r="2.3"/><circle cx="359.8" cy="162.3" r="2.3"/><circle cx="393.5" cy="142.3" r="2.3"/><circle cx="389.8" cy="139.0" r="2.3"/><circle cx="395.4" cy="132.8" r="2.3"/><circle cx="386.0" cy="125.7" r="2.3"/><circle cx="363.5" cy="148.7" r="2.3"/><circle cx="386.0" cy="139.3" r="2.3"/><circle cx="350.0" cy="118.2" r="2.3"/><circle cx="361.1" cy="114.8" r="2.3"/><circle cx="357.4" cy="123.7" r="2.3"/><circle cx="363.3" cy="123.0" r="2.3"/><circle cx="367.0" cy="123.7" r="2.3"/><circle cx="370.7" cy="127.4" r="2.3"/><circle cx="376.2" cy="127.7" r="2.3"/><circle cx="380.4" cy="130.7" r="2.3"/><circle cx="386.3" cy="117.0" r="2.3"/><circle cx="391.5" cy="117.0" r="2.3"/><circle cx="390.0" cy="123.0" r="2.3"/><circle cx="404.1" cy="118.2" r="2.3"/><circle cx="408.5" cy="115.6" r="2.3"/><circle cx="368.5" cy="134.8" r="2.3"/><circle cx="351.9" cy="144.9" r="2.3"/><circle cx="373.0" cy="139.3" r="2.3"/><circle cx="385.6" cy="136.0" r="2.3"/><circle cx="410.2" cy="114.5" r="2.3"/><circle cx="421.3" cy="115.6" r="2.3"/><circle cx="417.6" cy="119.3" r="2.3"/><circle cx="415.4" cy="123.0" r="2.3"/><circle cx="442.0" cy="117.5" r="2.3"/><circle cx="438.3" cy="125.2" r="2.3"/><circle cx="424.3" cy="125.2" r="2.3"/><circle cx="442.8" cy="129.6" r="2.3"/><circle cx="466.5" cy="130.8" r="2.3"/><circle cx="432.4" cy="131.9" r="2.3"/><circle cx="415.4" cy="134.1" r="2.3"/><circle cx="496.7" cy="116.3" r="2.3"/><circle cx="500.9" cy="115.2" r="2.3"/><circle cx="509.6" cy="114.4" r="2.3"/><circle cx="523.1" cy="114.4" r="2.3"/><circle cx="466.5" cy="130.6" r="2.3"/><circle cx="460.9" cy="143.5" r="2.3"/><circle cx="459.1" cy="174.1" r="2.3"/><circle cx="429.3" cy="144.8" r="2.3"/><circle cx="460.7" cy="143.3" r="2.3"/><circle cx="442.2" cy="161.9" r="2.3"/><circle cx="419.1" cy="166.1" r="2.3"/><circle cx="416.3" cy="174.1" r="2.3"/><circle cx="422.8" cy="177.8" r="2.3"/><circle cx="458.9" cy="174.1" r="2.3"/><circle cx="404.3" cy="197.6" r="2.3"/><circle cx="430.2" cy="155.0" r="2.3"/></g><g fill="none" stroke="#ff1010" stroke-width="1.25"><circle cx="359.8" cy="173.3" r="2.3"/><circle cx="363.5" cy="180.7" r="2.3"/><circle cx="357.9" cy="195.6" r="2.3"/><circle cx="369.2" cy="169.2" r="2.3"/><circle cx="357.9" cy="183.2" r="2.3"/><circle cx="402.9" cy="176.8" r="2.3"/><circle cx="363.5" cy="206.2" r="2.3"/><circle cx="357.9" cy="187.7" r="2.3"/><circle cx="371.0" cy="160.0" r="2.3"/><circle cx="346.6" cy="202.3" r="2.3"/><circle cx="359.8" cy="194.9" r="2.3"/><circle cx="402.9" cy="159.0" r="2.3"/><circle cx="350.4" cy="184.6" r="2.3"/><circle cx="395.4" cy="160.4" r="2.3"/><circle cx="342.9" cy="217.6" r="2.3"/><circle cx="365.4" cy="195.0" r="2.3"/><circle cx="397.3" cy="165.7" r="2.3"/><circle cx="412.3" cy="151.9" r="2.3"/><circle cx="367.3" cy="190.1" r="2.3"/><circle cx="361.6" cy="203.6" r="2.3"/><circle cx="371.0" cy="190.5" r="2.3"/><circle cx="399.2" cy="157.2" r="2.3"/><circle cx="367.3" cy="171.2" r="2.3"/><circle cx="359.8" cy="182.6" r="2.3"/><circle cx="369.2" cy="173.1" r="2.3"/><circle cx="391.7" cy="152.1" r="2.3"/><circle cx="372.9" cy="190.3" r="2.3"/><circle cx="372.9" cy="181.9" r="2.3"/><circle cx="361.6" cy="176.5" r="2.3"/><circle cx="386.0" cy="158.9" r="2.3"/><circle cx="357.9" cy="186.9" r="2.3"/><circle cx="401.0" cy="181.3" r="2.3"/><circle cx="348.5" cy="197.2" r="2.3"/><circle cx="389.8" cy="163.8" r="2.3"/><circle cx="416.0" cy="146.8" r="2.3"/><circle cx="369.2" cy="172.4" r="2.3"/><circle cx="356.0" cy="196.2" r="2.3"/><circle cx="367.3" cy="195.2" r="2.3"/><circle cx="352.3" cy="220.2" r="2.3"/><circle cx="371.0" cy="189.1" r="2.3"/><circle cx="410.4" cy="136.8" r="2.3"/><circle cx="342.9" cy="221.8" r="2.3"/><circle cx="384.2" cy="151.6" r="2.3"/><circle cx="376.7" cy="168.2" r="2.3"/><circle cx="357.9" cy="191.1" r="2.3"/><circle cx="382.3" cy="175.4" r="2.3"/><circle cx="352.3" cy="202.6" r="2.3"/><circle cx="369.2" cy="160.7" r="2.3"/><circle cx="374.8" cy="171.6" r="2.3"/><circle cx="412.3" cy="152.1" r="2.3"/><circle cx="361.6" cy="175.9" r="2.3"/><circle cx="350.4" cy="200.1" r="2.3"/><circle cx="342.9" cy="216.4" r="2.3"/><circle cx="350.4" cy="215.3" r="2.3"/><circle cx="386.0" cy="191.3" r="2.3"/><circle cx="384.2" cy="174.0" r="2.3"/><circle cx="339.1" cy="228.7" r="2.3"/><circle cx="359.8" cy="191.6" r="2.3"/><circle cx="363.5" cy="190.4" r="2.3"/><circle cx="356.0" cy="213.1" r="2.3"/><circle cx="393.5" cy="184.5" r="2.3"/><circle cx="359.8" cy="197.4" r="2.3"/><circle cx="361.6" cy="204.7" r="2.3"/><circle cx="393.5" cy="183.3" r="2.3"/><circle cx="401.0" cy="139.1" r="2.3"/><circle cx="372.9" cy="209.1" r="2.3"/><circle cx="342.9" cy="227.5" r="2.3"/><circle cx="404.8" cy="162.7" r="2.3"/><circle cx="393.5" cy="158.3" r="2.3"/><circle cx="357.9" cy="178.4" r="2.3"/><circle cx="401.0" cy="183.5" r="2.3"/><circle cx="401.0" cy="157.6" r="2.3"/><circle cx="361.6" cy="177.5" r="2.3"/><circle cx="352.3" cy="222.8" r="2.3"/><circle cx="391.7" cy="151.9" r="2.3"/><circle cx="384.2" cy="177.9" r="2.3"/><circle cx="352.3" cy="182.8" r="2.3"/><circle cx="352.3" cy="198.8" r="2.3"/><circle cx="357.9" cy="189.0" r="2.3"/><circle cx="348.5" cy="197.1" r="2.3"/><circle cx="361.6" cy="182.5" r="2.3"/><circle cx="344.8" cy="226.1" r="2.3"/><circle cx="386.0" cy="170.7" r="2.3"/><circle cx="354.1" cy="215.6" r="2.3"/><circle cx="356.0" cy="197.4" r="2.3"/><circle cx="341.0" cy="219.7" r="2.3"/><circle cx="359.8" cy="205.6" r="2.3"/><circle cx="378.5" cy="179.6" r="2.3"/><circle cx="356.0" cy="187.6" r="2.3"/><circle cx="344.8" cy="212.1" r="2.3"/><circle cx="387.9" cy="164.7" r="2.3"/><circle cx="346.6" cy="199.9" r="2.3"/><circle cx="378.5" cy="180.7" r="2.3"/><circle cx="401.0" cy="168.3" r="2.3"/><circle cx="401.0" cy="158.7" r="2.3"/><circle cx="354.1" cy="219.8" r="2.3"/><circle cx="348.5" cy="201.6" r="2.3"/><circle cx="354.1" cy="184.7" r="2.3"/><circle cx="382.3" cy="198.5" r="2.3"/><circle cx="354.1" cy="203.1" r="2.3"/><circle cx="354.1" cy="213.6" r="2.3"/><circle cx="342.9" cy="214.9" r="2.3"/><circle cx="369.2" cy="205.3" r="2.3"/><circle cx="382.3" cy="169.4" r="2.3"/><circle cx="374.8" cy="197.6" r="2.3"/><circle cx="357.9" cy="186.7" r="2.3"/><circle cx="346.6" cy="186.3" r="2.3"/><circle cx="389.8" cy="175.1" r="2.3"/><circle cx="374.8" cy="162.2" r="2.3"/><circle cx="369.2" cy="187.6" r="2.3"/><circle cx="365.4" cy="187.0" r="2.3"/><circle cx="344.8" cy="226.2" r="2.3"/><circle cx="354.1" cy="179.1" r="2.3"/><circle cx="378.5" cy="155.1" r="2.3"/><circle cx="361.6" cy="209.5" r="2.3"/><circle cx="397.3" cy="155.6" r="2.3"/><circle cx="404.8" cy="154.0" r="2.3"/><circle cx="356.0" cy="214.7" r="2.3"/><circle cx="376.7" cy="181.6" r="2.3"/><circle cx="359.8" cy="206.5" r="2.3"/><circle cx="374.8" cy="184.6" r="2.3"/><circle cx="354.1" cy="208.2" r="2.3"/><circle cx="361.6" cy="188.4" r="2.3"/><circle cx="352.3" cy="194.9" r="2.3"/><circle cx="395.4" cy="151.6" r="2.3"/><circle cx="391.7" cy="164.6" r="2.3"/><circle cx="342.9" cy="229.7" r="2.3"/><circle cx="352.3" cy="180.7" r="2.3"/><circle cx="359.8" cy="198.3" r="2.3"/><circle cx="357.9" cy="213.5" r="2.3"/><circle cx="352.3" cy="194.3" r="2.3"/><circle cx="380.4" cy="165.4" r="2.3"/><circle cx="354.1" cy="194.0" r="2.3"/><circle cx="376.7" cy="189.8" r="2.3"/><circle cx="335.4" cy="219.1" r="2.3"/><circle cx="397.3" cy="151.8" r="2.3"/><circle cx="342.9" cy="202.7" r="2.3"/><circle cx="384.2" cy="160.2" r="2.3"/><circle cx="354.1" cy="215.8" r="2.3"/><circle cx="384.2" cy="175.4" r="2.3"/><circle cx="395.4" cy="161.8" r="2.3"/><circle cx="341.0" cy="232.0" r="2.3"/><circle cx="361.6" cy="201.7" r="2.3"/><circle cx="401.0" cy="157.2" r="2.3"/><circle cx="346.6" cy="211.3" r="2.3"/><circle cx="369.2" cy="179.9" r="2.3"/><circle cx="389.8" cy="178.5" r="2.3"/><circle cx="402.9" cy="157.6" r="2.3"/><circle cx="363.5" cy="171.1" r="2.3"/><circle cx="376.7" cy="189.9" r="2.3"/><circle cx="367.3" cy="180.9" r="2.3"/><circle cx="344.8" cy="213.1" r="2.3"/><circle cx="337.3" cy="222.9" r="2.3"/><circle cx="399.2" cy="170.9" r="2.3"/><circle cx="369.2" cy="176.9" r="2.3"/><circle cx="386.0" cy="161.5" r="2.3"/><circle cx="354.1" cy="184.8" r="2.3"/><circle cx="359.8" cy="187.7" r="2.3"/><circle cx="352.3" cy="205.7" r="2.3"/><circle cx="348.5" cy="202.5" r="2.3"/><circle cx="387.9" cy="180.5" r="2.3"/><circle cx="354.1" cy="182.7" r="2.3"/><circle cx="363.5" cy="183.6" r="2.3"/><circle cx="361.6" cy="203.1" r="2.3"/><circle cx="391.7" cy="172.3" r="2.3"/><circle cx="369.2" cy="179.3" r="2.3"/><circle cx="386.0" cy="162.6" r="2.3"/><circle cx="382.3" cy="181.2" r="2.3"/><circle cx="374.8" cy="176.0" r="2.3"/><circle cx="363.5" cy="180.9" r="2.3"/><circle cx="402.9" cy="148.3" r="2.3"/><circle cx="356.0" cy="201.4" r="2.3"/><circle cx="352.3" cy="180.4" r="2.3"/><circle cx="356.0" cy="190.2" r="2.3"/><circle cx="378.5" cy="165.9" r="2.3"/><circle cx="348.5" cy="212.3" r="2.3"/><circle cx="365.4" cy="191.3" r="2.3"/><circle cx="350.4" cy="193.0" r="2.3"/><circle cx="337.3" cy="214.5" r="2.3"/><circle cx="395.4" cy="174.7" r="2.3"/><circle cx="378.5" cy="181.4" r="2.3"/><circle cx="380.4" cy="194.7" r="2.3"/><circle cx="365.4" cy="184.1" r="2.3"/><circle cx="352.3" cy="188.1" r="2.3"/><circle cx="337.3" cy="220.3" r="2.3"/><circle cx="386.0" cy="176.5" r="2.3"/><circle cx="397.3" cy="161.0" r="2.3"/><circle cx="356.0" cy="204.9" r="2.3"/><circle cx="350.4" cy="187.4" r="2.3"/><circle cx="382.3" cy="183.2" r="2.3"/><circle cx="357.9" cy="181.7" r="2.3"/><circle cx="372.9" cy="202.1" r="2.3"/><circle cx="410.4" cy="159.4" r="2.3"/><circle cx="384.2" cy="191.7" r="2.3"/><circle cx="395.4" cy="158.4" r="2.3"/><circle cx="352.3" cy="206.2" r="2.3"/><circle cx="359.8" cy="203.4" r="2.3"/><circle cx="369.2" cy="180.5" r="2.3"/><circle cx="387.9" cy="197.8" r="2.3"/><circle cx="342.9" cy="230.4" r="2.3"/><circle cx="372.9" cy="186.4" r="2.3"/><circle cx="391.7" cy="152.6" r="2.3"/><circle cx="412.3" cy="141.7" r="2.3"/><circle cx="365.4" cy="189.6" r="2.3"/><circle cx="357.9" cy="202.5" r="2.3"/><circle cx="346.6" cy="216.1" r="2.3"/><circle cx="350.4" cy="213.3" r="2.3"/><circle cx="402.9" cy="141.0" r="2.3"/><circle cx="342.9" cy="196.3" r="2.3"/><circle cx="352.3" cy="189.6" r="2.3"/><circle cx="333.5" cy="210.8" r="2.3"/><circle cx="404.8" cy="146.6" r="2.3"/><circle cx="369.2" cy="193.2" r="2.3"/><circle cx="374.8" cy="196.8" r="2.3"/><circle cx="361.6" cy="178.6" r="2.3"/><circle cx="363.5" cy="185.3" r="2.3"/><circle cx="386.0" cy="166.6" r="2.3"/><circle cx="346.6" cy="213.0" r="2.3"/><circle cx="363.5" cy="189.2" r="2.3"/><circle cx="359.8" cy="180.4" r="2.3"/><circle cx="346.6" cy="199.2" r="2.3"/><circle cx="363.5" cy="205.6" r="2.3"/><circle cx="408.5" cy="151.7" r="2.3"/><circle cx="414.2" cy="151.0" r="2.3"/><circle cx="384.2" cy="171.9" r="2.3"/><circle cx="339.1" cy="213.4" r="2.3"/><circle cx="372.9" cy="205.7" r="2.3"/><circle cx="369.2" cy="195.7" r="2.3"/><circle cx="372.9" cy="174.1" r="2.3"/><circle cx="357.9" cy="185.7" r="2.3"/><circle cx="391.7" cy="165.6" r="2.3"/><circle cx="352.3" cy="203.4" r="2.3"/><circle cx="363.5" cy="194.1" r="2.3"/><circle cx="374.8" cy="186.5" r="2.3"/><circle cx="371.0" cy="200.2" r="2.3"/><circle cx="367.3" cy="191.7" r="2.3"/><circle cx="361.6" cy="169.6" r="2.3"/><circle cx="352.3" cy="197.7" r="2.3"/><circle cx="378.5" cy="197.5" r="2.3"/><circle cx="389.8" cy="188.2" r="2.3"/><circle cx="346.6" cy="220.0" r="2.3"/><circle cx="356.0" cy="214.0" r="2.3"/><circle cx="369.2" cy="185.6" r="2.3"/><circle cx="369.2" cy="190.9" r="2.3"/><circle cx="367.3" cy="181.6" r="2.3"/><circle cx="346.6" cy="211.7" r="2.3"/><circle cx="344.8" cy="214.5" r="2.3"/><circle cx="389.8" cy="162.4" r="2.3"/><circle cx="378.5" cy="166.5" r="2.3"/><circle cx="342.9" cy="230.3" r="2.3"/><circle cx="393.5" cy="187.8" r="2.3"/><circle cx="387.9" cy="164.7" r="2.3"/><circle cx="352.3" cy="223.3" r="2.3"/><circle cx="380.4" cy="153.7" r="2.3"/><circle cx="344.8" cy="230.2" r="2.3"/><circle cx="339.1" cy="205.1" r="2.3"/><circle cx="359.8" cy="186.0" r="2.3"/><circle cx="371.0" cy="157.9" r="2.3"/><circle cx="357.9" cy="196.1" r="2.3"/><circle cx="369.2" cy="193.7" r="2.3"/><circle cx="384.2" cy="150.5" r="2.3"/><circle cx="380.4" cy="161.3" r="2.3"/><circle cx="404.8" cy="175.5" r="2.3"/><circle cx="380.4" cy="162.9" r="2.3"/><circle cx="382.3" cy="165.4" r="2.3"/><circle cx="386.0" cy="152.2" r="2.3"/><circle cx="359.8" cy="186.3" r="2.3"/><circle cx="412.3" cy="157.7" r="2.3"/><circle cx="337.3" cy="218.7" r="2.3"/><circle cx="346.6" cy="207.1" r="2.3"/><circle cx="384.2" cy="186.4" r="2.3"/><circle cx="397.3" cy="163.4" r="2.3"/><circle cx="356.0" cy="220.4" r="2.3"/><circle cx="363.5" cy="171.4" r="2.3"/><circle cx="382.3" cy="200.6" r="2.3"/><circle cx="339.1" cy="221.0" r="2.3"/><circle cx="384.2" cy="193.0" r="2.3"/><circle cx="369.2" cy="211.3" r="2.3"/><circle cx="376.7" cy="159.6" r="2.3"/><circle cx="350.4" cy="190.6" r="2.3"/><circle cx="378.5" cy="158.0" r="2.3"/><circle cx="386.0" cy="164.5" r="2.3"/><circle cx="335.4" cy="215.6" r="2.3"/><circle cx="350.4" cy="216.9" r="2.3"/><circle cx="391.7" cy="175.1" r="2.3"/><circle cx="337.3" cy="233.2" r="2.3"/><circle cx="386.0" cy="183.3" r="2.3"/><circle cx="361.6" cy="201.0" r="2.3"/><circle cx="350.4" cy="197.9" r="2.3"/><circle cx="365.4" cy="193.2" r="2.3"/><circle cx="384.2" cy="190.7" r="2.3"/><circle cx="357.9" cy="178.4" r="2.3"/><circle cx="393.5" cy="159.4" r="2.3"/><circle cx="342.9" cy="202.4" r="2.3"/><circle cx="359.8" cy="197.8" r="2.3"/><circle cx="371.0" cy="206.5" r="2.3"/><circle cx="359.8" cy="182.1" r="2.3"/><circle cx="371.0" cy="163.4" r="2.3"/><circle cx="339.1" cy="208.0" r="2.3"/><circle cx="408.5" cy="158.2" r="2.3"/><circle cx="350.4" cy="211.7" r="2.3"/><circle cx="356.0" cy="198.0" r="2.3"/><circle cx="365.4" cy="178.9" r="2.3"/><circle cx="369.2" cy="168.3" r="2.3"/><circle cx="401.0" cy="149.6" r="2.3"/><circle cx="337.3" cy="230.0" r="2.3"/><circle cx="382.3" cy="155.3" r="2.3"/><circle cx="397.3" cy="181.0" r="2.3"/><circle cx="372.9" cy="170.7" r="2.3"/><circle cx="356.0" cy="184.5" r="2.3"/><circle cx="404.8" cy="140.6" r="2.3"/><circle cx="389.8" cy="182.6" r="2.3"/><circle cx="382.3" cy="179.0" r="2.3"/><circle cx="374.8" cy="191.7" r="2.3"/><circle cx="359.8" cy="202.1" r="2.3"/><circle cx="361.6" cy="217.6" r="2.3"/><circle cx="357.9" cy="176.0" r="2.3"/><circle cx="408.5" cy="175.0" r="2.3"/><circle cx="359.8" cy="198.1" r="2.3"/><circle cx="354.1" cy="203.7" r="2.3"/><circle cx="348.5" cy="214.9" r="2.3"/><circle cx="391.7" cy="150.9" r="2.3"/><circle cx="363.5" cy="192.1" r="2.3"/><circle cx="357.9" cy="179.4" r="2.3"/><circle cx="344.8" cy="218.9" r="2.3"/><circle cx="357.9" cy="208.9" r="2.3"/><circle cx="378.5" cy="182.9" r="2.3"/><circle cx="361.6" cy="168.2" r="2.3"/><circle cx="382.3" cy="166.6" r="2.3"/><circle cx="352.3" cy="223.2" r="2.3"/><circle cx="408.5" cy="183.0" r="2.3"/><circle cx="382.3" cy="165.3" r="2.3"/><circle cx="389.8" cy="184.9" r="2.3"/><circle cx="365.4" cy="202.7" r="2.3"/><circle cx="356.0" cy="183.5" r="2.3"/><circle cx="339.1" cy="221.7" r="2.3"/><circle cx="356.0" cy="207.4" r="2.3"/><circle cx="352.3" cy="203.9" r="2.3"/><circle cx="352.3" cy="206.3" r="2.3"/><circle cx="389.8" cy="154.1" r="2.3"/><circle cx="352.3" cy="197.1" r="2.3"/><circle cx="412.3" cy="144.1" r="2.3"/><circle cx="344.8" cy="216.6" r="2.3"/><circle cx="406.7" cy="148.3" r="2.3"/><circle cx="348.5" cy="217.3" r="2.3"/><circle cx="367.3" cy="172.4" r="2.3"/><circle cx="386.0" cy="162.1" r="2.3"/><circle cx="350.4" cy="195.5" r="2.3"/><circle cx="380.4" cy="199.4" r="2.3"/><circle cx="361.6" cy="195.5" r="2.3"/><circle cx="357.9" cy="195.1" r="2.3"/><circle cx="361.6" cy="214.5" r="2.3"/><circle cx="372.9" cy="181.6" r="2.3"/><circle cx="365.4" cy="212.3" r="2.3"/><circle cx="356.0" cy="210.5" r="2.3"/><circle cx="339.1" cy="223.2" r="2.3"/><circle cx="380.4" cy="176.0" r="2.3"/><circle cx="337.3" cy="222.1" r="2.3"/><circle cx="378.5" cy="197.8" r="2.3"/><circle cx="346.6" cy="228.4" r="2.3"/><circle cx="350.4" cy="193.2" r="2.3"/><circle cx="341.0" cy="207.2" r="2.3"/><circle cx="369.2" cy="210.4" r="2.3"/><circle cx="371.0" cy="166.8" r="2.3"/><circle cx="374.8" cy="171.0" r="2.3"/><circle cx="357.9" cy="212.0" r="2.3"/><circle cx="354.1" cy="197.6" r="2.3"/><circle cx="397.3" cy="182.2" r="2.3"/><circle cx="359.8" cy="203.5" r="2.3"/><circle cx="414.2" cy="163.0" r="2.3"/><circle cx="356.0" cy="193.0" r="2.3"/><circle cx="399.2" cy="150.1" r="2.3"/><circle cx="337.3" cy="221.5" r="2.3"/><circle cx="374.8" cy="170.1" r="2.3"/><circle cx="363.5" cy="173.9" r="2.3"/><circle cx="352.3" cy="202.4" r="2.3"/><circle cx="341.0" cy="229.4" r="2.3"/><circle cx="348.5" cy="221.6" r="2.3"/><circle cx="367.3" cy="190.7" r="2.3"/><circle cx="352.3" cy="195.2" r="2.3"/><circle cx="363.5" cy="169.4" r="2.3"/><circle cx="352.3" cy="219.6" r="2.3"/><circle cx="410.4" cy="157.5" r="2.3"/><circle cx="341.0" cy="200.3" r="2.3"/><circle cx="354.1" cy="206.0" r="2.3"/><circle cx="374.8" cy="181.6" r="2.3"/><circle cx="359.8" cy="217.7" r="2.3"/><circle cx="371.0" cy="202.6" r="2.3"/><circle cx="393.5" cy="155.9" r="2.3"/><circle cx="380.4" cy="175.4" r="2.3"/><circle cx="374.8" cy="201.6" r="2.3"/><circle cx="389.8" cy="185.7" r="2.3"/><circle cx="369.2" cy="190.7" r="2.3"/><circle cx="395.4" cy="179.4" r="2.3"/><circle cx="386.0" cy="172.3" r="2.3"/><circle cx="356.0" cy="188.4" r="2.3"/><circle cx="363.5" cy="183.1" r="2.3"/><circle cx="352.3" cy="211.2" r="2.3"/><circle cx="386.0" cy="163.4" r="2.3"/><circle cx="410.4" cy="148.2" r="2.3"/><circle cx="380.1" cy="108.9" r="2.3"/><circle cx="381.9" cy="120.7" r="2.3"/><circle cx="395.2" cy="122.2" r="2.3"/><circle cx="393.7" cy="128.9" r="2.3"/><circle cx="404.1" cy="125.2" r="2.3"/><circle cx="378.1" cy="136.3" r="2.3"/><circle cx="359.6" cy="144.0" r="2.3"/><circle cx="466.5" cy="79.6" r="2.3"/><circle cx="418.0" cy="92.9" r="2.3"/><circle cx="442.0" cy="98.8" r="2.3"/><circle cx="425.0" cy="100.3" r="2.3"/><circle cx="421.3" cy="104.1" r="2.3"/><circle cx="428.7" cy="104.1" r="2.3"/><circle cx="423.5" cy="107.4" r="2.3"/><circle cx="416.1" cy="114.8" r="2.3"/><circle cx="438.3" cy="116.0" r="2.3"/><circle cx="438.3" cy="122.2" r="2.3"/><circle cx="408.0" cy="123.7" r="2.3"/><circle cx="421.3" cy="132.6" r="2.3"/><circle cx="430.9" cy="130.4" r="2.3"/><circle cx="442.0" cy="135.6" r="2.3"/><circle cx="413.1" cy="132.6" r="2.3"/><circle cx="523.1" cy="153.3" r="2.3"/><circle cx="509.6" cy="164.8" r="2.3"/><circle cx="500.4" cy="180.6" r="2.3"/><circle cx="496.7" cy="189.3" r="2.3"/><circle cx="459.1" cy="160.2" r="2.3"/><circle cx="460.9" cy="181.9" r="2.3"/><circle cx="438.5" cy="143.3" r="2.3"/><circle cx="420.0" cy="147.0" r="2.3"/><circle cx="442.2" cy="134.6" r="2.3"/><circle cx="442.2" cy="153.1" r="2.3"/><circle cx="442.2" cy="157.8" r="2.3"/><circle cx="433.0" cy="161.1" r="2.3"/><circle cx="458.9" cy="160.6" r="2.3"/><circle cx="460.7" cy="182.8" r="2.3"/><circle cx="413.5" cy="179.6" r="2.3"/><circle cx="411.7" cy="188.9" r="2.3"/><circle cx="415.7" cy="202.6" r="2.3"/><circle cx="370.2" cy="208.3" r="2.3"/></g><line x1="311.00" y1="239.40" x2="536.10" y2="9.20" stroke="#1a1a1a" stroke-width="1.3" stroke-dasharray="6 3.4"/></g><g stroke="#6e6e6e" stroke-width="1" fill="none"><line x1="348.52" y1="239.40" x2="348.52" y2="237.00"/><line x1="348.52" y1="9.20" x2="348.52" y2="11.60"/><line x1="311.00" y1="201.03" x2="313.40" y2="201.03"/><line x1="536.10" y1="201.03" x2="533.70" y2="201.03"/><line x1="386.03" y1="239.40" x2="386.03" y2="237.00"/><line x1="386.03" y1="9.20" x2="386.03" y2="11.60"/><line x1="311.00" y1="162.67" x2="313.40" y2="162.67"/><line x1="536.10" y1="162.67" x2="533.70" y2="162.67"/><line x1="423.55" y1="239.40" x2="423.55" y2="237.00"/><line x1="423.55" y1="9.20" x2="423.55" y2="11.60"/><line x1="311.00" y1="124.30" x2="313.40" y2="124.30"/><line x1="536.10" y1="124.30" x2="533.70" y2="124.30"/><line x1="461.07" y1="239.40" x2="461.07" y2="237.00"/><line x1="461.07" y1="9.20" x2="461.07" y2="11.60"/><line x1="311.00" y1="85.93" x2="313.40" y2="85.93"/><line x1="536.10" y1="85.93" x2="533.70" y2="85.93"/><line x1="498.58" y1="239.40" x2="498.58" y2="237.00"/><line x1="498.58" y1="9.20" x2="498.58" y2="11.60"/><line x1="311.00" y1="47.57" x2="313.40" y2="47.57"/><line x1="536.10" y1="47.57" x2="533.70" y2="47.57"/><rect x="311.00" y="9.20" width="225.10" height="230.20"/></g><g font-family="Liberation Serif" font-size="12.4" fill="#262626" stroke="#262626" stroke-width="0.2"><text x="306.00" y="244.40" text-anchor="end">0</text><text x="311.00" y="256.30" text-anchor="middle">0</text><text x="306.00" y="206.03" text-anchor="end">20</text><text x="348.52" y="256.30" text-anchor="middle">20</text><text x="306.00" y="167.67" text-anchor="end">40</text><text x="386.03" y="256.30" text-anchor="middle">40</text><text x="306.00" y="129.30" text-anchor="end">60</text><text x="423.55" y="256.30" text-anchor="middle">60</text><text x="306.00" y="90.93" text-anchor="end">80</text><text x="461.07" y="256.30" text-anchor="middle">80</text><text x="306.00" y="52.57" text-anchor="end">100</text><text x="498.58" y="256.30" text-anchor="middle">100</text><text x="306.00" y="14.20" text-anchor="end">120</text><text x="536.10" y="256.30" text-anchor="middle">120</text></g><clipPath id="cc"><rect x="46.6" y="265.0" width="224.70000000000002" height="233.7"/></clipPath><g clip-path="url(#cc)"><g fill="none" stroke="#00e040" stroke-width="1.25"><circle cx="136.5" cy="384.8" r="2.3"/><circle cx="136.5" cy="379.7" r="2.3"/><circle cx="136.5" cy="374.6" r="2.3"/><circle cx="136.5" cy="369.6" r="2.3"/><circle cx="158.9" cy="390.0" r="2.3"/><circle cx="158.9" cy="383.0" r="2.3"/><circle cx="102.8" cy="395.9" r="2.3"/><circle cx="102.8" cy="393.5" r="2.3"/><circle cx="102.8" cy="391.7" r="2.3"/><circle cx="102.8" cy="463.6" r="2.3"/><circle cx="114.0" cy="463.6" r="2.3"/><circle cx="114.0" cy="462.3" r="2.3"/><circle cx="114.0" cy="460.9" r="2.3"/><circle cx="114.0" cy="459.5" r="2.3"/><circle cx="114.0" cy="458.1" r="2.3"/><circle cx="114.0" cy="456.7" r="2.3"/><circle cx="114.0" cy="455.3" r="2.3"/><circle cx="114.0" cy="453.9" r="2.3"/><circle cx="114.0" cy="452.5" r="2.3"/><circle cx="114.0" cy="451.2" r="2.3"/><circle cx="114.0" cy="449.8" r="2.3"/><circle cx="114.0" cy="448.4" r="2.3"/><circle cx="114.0" cy="447.0" r="2.3"/><circle cx="114.0" cy="445.6" r="2.3"/><circle cx="114.0" cy="444.2" r="2.3"/><circle cx="114.0" cy="442.8" r="2.3"/><circle cx="114.0" cy="441.4" r="2.3"/><circle cx="114.0" cy="393.5" r="2.3"/><circle cx="114.0" cy="395.9" r="2.3"/><circle cx="114.0" cy="466.3" r="2.3"/><circle cx="125.2" cy="450.8" r="2.3"/><circle cx="125.2" cy="449.5" r="2.3"/><circle cx="125.2" cy="448.2" r="2.3"/><circle cx="125.2" cy="446.8" r="2.3"/><circle cx="125.2" cy="445.5" r="2.3"/><circle cx="125.2" cy="444.2" r="2.3"/><circle cx="125.2" cy="442.9" r="2.3"/><circle cx="125.2" cy="441.6" r="2.3"/><circle cx="125.2" cy="440.3" r="2.3"/><circle cx="125.2" cy="305.9" r="2.3"/><circle cx="125.2" cy="324.2" r="2.3"/><circle cx="125.2" cy="341.7" r="2.3"/><circle cx="125.2" cy="386.8" r="2.3"/><circle cx="136.5" cy="449.6" r="2.3"/><circle cx="136.5" cy="448.2" r="2.3"/><circle cx="136.5" cy="446.8" r="2.3"/><circle cx="136.5" cy="445.4" r="2.3"/><circle cx="136.5" cy="444.0" r="2.3"/><circle cx="136.5" cy="442.6" r="2.3"/><circle cx="136.5" cy="441.2" r="2.3"/><circle cx="136.5" cy="439.8" r="2.3"/><circle cx="136.5" cy="438.4" r="2.3"/><circle cx="136.5" cy="437.0" r="2.3"/><circle cx="136.5" cy="435.6" r="2.3"/><circle cx="136.5" cy="364.2" r="2.3"/><circle cx="147.7" cy="348.3" r="2.3"/><circle cx="147.7" cy="382.6" r="2.3"/><circle cx="147.7" cy="437.9" r="2.3"/><circle cx="147.7" cy="445.5" r="2.3"/><circle cx="158.9" cy="446.7" r="2.3"/><circle cx="158.9" cy="445.3" r="2.3"/><circle cx="158.9" cy="443.8" r="2.3"/><circle cx="158.9" cy="442.4" r="2.3"/><circle cx="158.9" cy="441.0" r="2.3"/><circle cx="158.9" cy="439.5" r="2.3"/><circle cx="158.9" cy="438.1" r="2.3"/><circle cx="158.9" cy="436.7" r="2.3"/><circle cx="158.9" cy="435.2" r="2.3"/><circle cx="158.9" cy="433.8" r="2.3"/><circle cx="158.9" cy="432.4" r="2.3"/><circle cx="158.9" cy="430.9" r="2.3"/><circle cx="158.9" cy="351.8" r="2.3"/><circle cx="158.9" cy="355.6" r="2.3"/><circle cx="170.2" cy="433.3" r="2.3"/><circle cx="170.2" cy="432.1" r="2.3"/><circle cx="170.2" cy="430.9" r="2.3"/><circle cx="170.2" cy="429.8" r="2.3"/><circle cx="170.2" cy="362.2" r="2.3"/><circle cx="170.2" cy="374.8" r="2.3"/><circle cx="170.2" cy="450.8" r="2.3"/><circle cx="181.4" cy="434.2" r="2.3"/><circle cx="192.7" cy="444.9" r="2.3"/><circle cx="192.7" cy="443.3" r="2.3"/><circle cx="192.7" cy="368.1" r="2.3"/></g><g fill="none" stroke="#2020e0" stroke-width="1.25"><circle cx="125.2" cy="402.3" r="2.3"/><circle cx="125.2" cy="396.5" r="2.3"/><circle cx="125.2" cy="390.6" r="2.3"/><circle cx="125.2" cy="384.8" r="2.3"/><circle cx="136.5" cy="414.3" r="2.3"/><circle cx="136.5" cy="409.1" r="2.3"/><circle cx="136.5" cy="403.9" r="2.3"/><circle cx="136.5" cy="398.7" r="2.3"/><circle cx="136.5" cy="393.5" r="2.3"/><circle cx="136.5" cy="388.3" r="2.3"/><circle cx="136.5" cy="383.2" r="2.3"/><circle cx="136.5" cy="378.0" r="2.3"/><circle cx="136.5" cy="372.8" r="2.3"/><circle cx="147.7" cy="407.6" r="2.3"/><circle cx="147.7" cy="403.1" r="2.3"/><circle cx="147.7" cy="398.7" r="2.3"/><circle cx="147.7" cy="394.2" r="2.3"/><circle cx="147.7" cy="389.8" r="2.3"/><circle cx="147.7" cy="385.4" r="2.3"/><circle cx="158.9" cy="413.4" r="2.3"/><circle cx="158.9" cy="408.9" r="2.3"/><circle cx="158.9" cy="404.4" r="2.3"/><circle cx="158.9" cy="399.9" r="2.3"/><circle cx="158.9" cy="395.4" r="2.3"/><circle cx="158.9" cy="390.9" r="2.3"/><circle cx="158.9" cy="386.4" r="2.3"/><circle cx="158.9" cy="381.9" r="2.3"/><circle cx="114.0" cy="436.8" r="2.3"/><circle cx="114.0" cy="429.2" r="2.3"/><circle cx="114.0" cy="421.6" r="2.3"/><circle cx="114.0" cy="414.0" r="2.3"/><circle cx="114.0" cy="406.4" r="2.3"/><circle cx="114.0" cy="398.8" r="2.3"/><circle cx="114.0" cy="391.2" r="2.3"/><circle cx="102.8" cy="401.7" r="2.3"/><circle cx="114.0" cy="379.2" r="2.3"/><circle cx="114.0" cy="391.7" r="2.3"/><circle cx="125.2" cy="370.7" r="2.3"/><circle cx="125.2" cy="378.3" r="2.3"/><circle cx="136.5" cy="429.2" r="2.3"/><circle cx="136.5" cy="427.7" r="2.3"/><circle cx="136.5" cy="426.2" r="2.3"/><circle cx="136.5" cy="424.7" r="2.3"/><circle cx="136.5" cy="423.2" r="2.3"/><circle cx="136.5" cy="421.7" r="2.3"/><circle cx="136.5" cy="420.2" r="2.3"/><circle cx="136.5" cy="418.7" r="2.3"/><circle cx="147.7" cy="433.3" r="2.3"/><circle cx="147.7" cy="431.9" r="2.3"/><circle cx="147.7" cy="430.5" r="2.3"/><circle cx="147.7" cy="429.1" r="2.3"/><circle cx="147.7" cy="427.8" r="2.3"/><circle cx="147.7" cy="426.4" r="2.3"/><circle cx="147.7" cy="425.0" r="2.3"/><circle cx="147.7" cy="423.6" r="2.3"/><circle cx="147.7" cy="422.3" r="2.3"/><circle cx="147.7" cy="420.9" r="2.3"/><circle cx="147.7" cy="419.5" r="2.3"/><circle cx="147.7" cy="418.1" r="2.3"/><circle cx="147.7" cy="416.8" r="2.3"/><circle cx="147.7" cy="415.4" r="2.3"/><circle cx="147.7" cy="414.0" r="2.3"/><circle cx="147.7" cy="412.6" r="2.3"/><circle cx="147.7" cy="411.3" r="2.3"/><circle cx="147.7" cy="409.9" r="2.3"/><circle cx="147.7" cy="385.8" r="2.3"/><circle cx="158.9" cy="430.3" r="2.3"/><circle cx="158.9" cy="429.0" r="2.3"/><circle cx="158.9" cy="427.7" r="2.3"/><circle cx="158.9" cy="426.4" r="2.3"/><circle cx="158.9" cy="425.1" r="2.3"/><circle cx="158.9" cy="376.4" r="2.3"/><circle cx="158.9" cy="393.5" r="2.3"/><circle cx="158.9" cy="402.9" r="2.3"/><circle cx="170.2" cy="401.7" r="2.3"/><circle cx="170.2" cy="400.2" r="2.3"/><circle cx="170.2" cy="398.7" r="2.3"/><circle cx="170.2" cy="397.2" r="2.3"/><circle cx="170.2" cy="395.6" r="2.3"/><circle cx="170.2" cy="394.1" r="2.3"/><circle cx="170.2" cy="392.6" r="2.3"/><circle cx="181.4" cy="413.4" r="2.3"/><circle cx="192.7" cy="420.1" r="2.3"/><circle cx="192.7" cy="418.8" r="2.3"/><circle cx="192.7" cy="417.5" r="2.3"/><circle cx="192.7" cy="416.3" r="2.3"/><circle cx="192.7" cy="415.0" r="2.3"/><circle cx="192.7" cy="399.4" r="2.3"/><circle cx="192.7" cy="427.4" r="2.3"/></g><g fill="none" stroke="#ff1010" stroke-width="1.25"><circle cx="102.8" cy="463.6" r="2.3"/><circle cx="102.8" cy="461.6" r="2.3"/><circle cx="102.8" cy="459.6" r="2.3"/><circle cx="102.8" cy="457.6" r="2.3"/><circle cx="102.8" cy="455.6" r="2.3"/><circle cx="102.8" cy="453.6" r="2.3"/><circle cx="102.8" cy="451.6" r="2.3"/><circle cx="102.8" cy="449.5" r="2.3"/><circle cx="102.8" cy="447.5" r="2.3"/><circle cx="102.8" cy="445.5" r="2.3"/><circle cx="102.8" cy="443.5" r="2.3"/><circle cx="102.8" cy="441.5" r="2.3"/><circle cx="102.8" cy="439.5" r="2.3"/><circle cx="102.8" cy="437.5" r="2.3"/><circle cx="102.8" cy="435.4" r="2.3"/><circle cx="102.8" cy="433.4" r="2.3"/><circle cx="102.8" cy="431.4" r="2.3"/><circle cx="102.8" cy="429.4" r="2.3"/><circle cx="102.8" cy="427.4" r="2.3"/><circle cx="102.8" cy="425.4" r="2.3"/><circle cx="102.8" cy="423.4" r="2.3"/><circle cx="102.8" cy="421.3" r="2.3"/><circle cx="102.8" cy="419.3" r="2.3"/><circle cx="102.8" cy="417.3" r="2.3"/><circle cx="102.8" cy="415.3" r="2.3"/><circle cx="102.8" cy="413.3" r="2.3"/><circle cx="102.8" cy="411.3" r="2.3"/><circle cx="102.8" cy="409.2" r="2.3"/><circle cx="102.8" cy="407.2" r="2.3"/><circle cx="102.8" cy="405.2" r="2.3"/><circle cx="102.8" cy="383.3" r="2.3"/><circle cx="114.0" cy="441.4" r="2.3"/><circle cx="114.0" cy="439.5" r="2.3"/><circle cx="114.0" cy="437.5" r="2.3"/><circle cx="114.0" cy="435.5" r="2.3"/><circle cx="114.0" cy="433.5" r="2.3"/><circle cx="114.0" cy="431.5" r="2.3"/><circle cx="114.0" cy="429.5" r="2.3"/><circle cx="114.0" cy="427.5" r="2.3"/><circle cx="114.0" cy="425.6" r="2.3"/><circle cx="114.0" cy="423.6" r="2.3"/><circle cx="114.0" cy="421.6" r="2.3"/><circle cx="114.0" cy="419.6" r="2.3"/><circle cx="114.0" cy="417.6" r="2.3"/><circle cx="114.0" cy="415.6" r="2.3"/><circle cx="114.0" cy="413.6" r="2.3"/><circle cx="114.0" cy="411.6" r="2.3"/><circle cx="114.0" cy="409.7" r="2.3"/><circle cx="114.0" cy="407.7" r="2.3"/><circle cx="114.0" cy="405.7" r="2.3"/><circle cx="114.0" cy="403.7" r="2.3"/><circle cx="114.0" cy="401.7" r="2.3"/><circle cx="114.0" cy="399.7" r="2.3"/><circle cx="114.0" cy="397.7" r="2.3"/><circle cx="114.0" cy="395.8" r="2.3"/><circle cx="114.0" cy="393.8" r="2.3"/><circle cx="114.0" cy="391.8" r="2.3"/><circle cx="114.0" cy="389.8" r="2.3"/><circle cx="114.0" cy="387.8" r="2.3"/><circle cx="114.0" cy="385.8" r="2.3"/><circle cx="114.0" cy="383.8" r="2.3"/><circle cx="114.0" cy="381.9" r="2.3"/><circle cx="114.0" cy="446.7" r="2.3"/><circle cx="114.0" cy="453.7" r="2.3"/><circle cx="114.0" cy="457.8" r="2.3"/><circle cx="114.0" cy="461.3" r="2.3"/><circle cx="114.0" cy="463.6" r="2.3"/><circle cx="114.0" cy="466.7" r="2.3"/><circle cx="114.0" cy="373.0" r="2.3"/><circle cx="114.0" cy="370.2" r="2.3"/><circle cx="114.0" cy="368.3" r="2.3"/><circle cx="114.0" cy="354.6" r="2.3"/><circle cx="114.0" cy="343.6" r="2.3"/><circle cx="114.0" cy="328.7" r="2.3"/><circle cx="114.0" cy="324.9" r="2.3"/><circle cx="125.2" cy="440.3" r="2.3"/><circle cx="125.2" cy="438.3" r="2.3"/><circle cx="125.2" cy="436.3" r="2.3"/><circle cx="125.2" cy="434.3" r="2.3"/><circle cx="125.2" cy="432.3" r="2.3"/><circle cx="125.2" cy="430.3" r="2.3"/><circle cx="125.2" cy="428.3" r="2.3"/><circle cx="125.2" cy="426.3" r="2.3"/><circle cx="125.2" cy="424.3" r="2.3"/><circle cx="125.2" cy="422.3" r="2.3"/><circle cx="125.2" cy="420.3" r="2.3"/><circle cx="125.2" cy="418.3" r="2.3"/><circle cx="125.2" cy="416.4" r="2.3"/><circle cx="125.2" cy="414.4" r="2.3"/><circle cx="125.2" cy="412.4" r="2.3"/><circle cx="125.2" cy="410.4" r="2.3"/><circle cx="125.2" cy="408.4" r="2.3"/><circle cx="125.2" cy="406.4" r="2.3"/><circle cx="125.2" cy="404.4" r="2.3"/><circle cx="125.2" cy="402.4" r="2.3"/><circle cx="125.2" cy="400.4" r="2.3"/><circle cx="125.2" cy="398.4" r="2.3"/><circle cx="125.2" cy="396.4" r="2.3"/><circle cx="125.2" cy="394.4" r="2.3"/><circle cx="125.2" cy="392.4" r="2.3"/><circle cx="125.2" cy="390.4" r="2.3"/><circle cx="125.2" cy="388.4" r="2.3"/><circle cx="125.2" cy="386.5" r="2.3"/><circle cx="125.2" cy="384.5" r="2.3"/><circle cx="125.2" cy="382.5" r="2.3"/><circle cx="125.2" cy="380.5" r="2.3"/><circle cx="125.2" cy="378.5" r="2.3"/><circle cx="125.2" cy="376.5" r="2.3"/><circle cx="125.2" cy="374.5" r="2.3"/><circle cx="125.2" cy="372.5" r="2.3"/><circle cx="125.2" cy="459.0" r="2.3"/><circle cx="125.2" cy="467.2" r="2.3"/><circle cx="136.5" cy="417.5" r="2.3"/><circle cx="136.5" cy="415.5" r="2.3"/><circle cx="136.5" cy="413.6" r="2.3"/><circle cx="136.5" cy="411.6" r="2.3"/><circle cx="136.5" cy="409.7" r="2.3"/><circle cx="136.5" cy="407.7" r="2.3"/><circle cx="136.5" cy="405.8" r="2.3"/><circle cx="136.5" cy="403.8" r="2.3"/><circle cx="136.5" cy="401.8" r="2.3"/><circle cx="136.5" cy="399.9" r="2.3"/><circle cx="136.5" cy="397.9" r="2.3"/><circle cx="136.5" cy="396.0" r="2.3"/><circle cx="136.5" cy="394.0" r="2.3"/><circle cx="136.5" cy="392.1" r="2.3"/><circle cx="136.5" cy="390.1" r="2.3"/><circle cx="136.5" cy="388.2" r="2.3"/><circle cx="136.5" cy="386.2" r="2.3"/><circle cx="136.5" cy="384.3" r="2.3"/><circle cx="136.5" cy="382.3" r="2.3"/><circle cx="136.5" cy="380.3" r="2.3"/><circle cx="136.5" cy="378.4" r="2.3"/><circle cx="136.5" cy="376.4" r="2.3"/><circle cx="136.5" cy="374.5" r="2.3"/><circle cx="136.5" cy="372.5" r="2.3"/><circle cx="136.5" cy="370.6" r="2.3"/><circle cx="136.5" cy="368.6" r="2.3"/><circle cx="136.5" cy="366.7" r="2.3"/><circle cx="136.5" cy="353.3" r="2.3"/><circle cx="136.5" cy="433.7" r="2.3"/><circle cx="136.5" cy="456.6" r="2.3"/><circle cx="147.7" cy="409.9" r="2.3"/><circle cx="147.7" cy="408.0" r="2.3"/><circle cx="147.7" cy="406.1" r="2.3"/><circle cx="147.7" cy="404.1" r="2.3"/><circle cx="147.7" cy="402.2" r="2.3"/><circle cx="147.7" cy="400.3" r="2.3"/><circle cx="147.7" cy="398.4" r="2.3"/><circle cx="147.7" cy="396.5" r="2.3"/><circle cx="147.7" cy="394.5" r="2.3"/><circle cx="147.7" cy="392.6" r="2.3"/><circle cx="147.7" cy="390.7" r="2.3"/><circle cx="147.7" cy="388.8" r="2.3"/><circle cx="147.7" cy="386.9" r="2.3"/><circle cx="147.7" cy="384.9" r="2.3"/><circle cx="147.7" cy="383.0" r="2.3"/><circle cx="147.7" cy="335.8" r="2.3"/><circle cx="147.7" cy="353.3" r="2.3"/><circle cx="147.7" cy="360.8" r="2.3"/><circle cx="147.7" cy="368.3" r="2.3"/><circle cx="147.7" cy="375.8" r="2.3"/><circle cx="147.7" cy="421.0" r="2.3"/><circle cx="147.7" cy="427.4" r="2.3"/><circle cx="147.7" cy="470.0" r="2.3"/><circle cx="158.9" cy="415.7" r="2.3"/><circle cx="158.9" cy="413.7" r="2.3"/><circle cx="158.9" cy="411.7" r="2.3"/><circle cx="158.9" cy="409.7" r="2.3"/><circle cx="158.9" cy="407.7" r="2.3"/><circle cx="158.9" cy="405.7" r="2.3"/><circle cx="158.9" cy="403.7" r="2.3"/><circle cx="158.9" cy="401.6" r="2.3"/><circle cx="158.9" cy="399.6" r="2.3"/><circle cx="158.9" cy="397.6" r="2.3"/><circle cx="158.9" cy="395.6" r="2.3"/><circle cx="158.9" cy="393.6" r="2.3"/><circle cx="158.9" cy="391.6" r="2.3"/><circle cx="158.9" cy="389.6" r="2.3"/><circle cx="158.9" cy="387.6" r="2.3"/><circle cx="158.9" cy="385.6" r="2.3"/><circle cx="158.9" cy="383.5" r="2.3"/><circle cx="158.9" cy="381.5" r="2.3"/><circle cx="158.9" cy="379.5" r="2.3"/><circle cx="158.9" cy="335.6" r="2.3"/><circle cx="158.9" cy="349.6" r="2.3"/><circle cx="158.9" cy="361.5" r="2.3"/><circle cx="158.9" cy="369.0" r="2.3"/><circle cx="158.9" cy="373.3" r="2.3"/><circle cx="170.2" cy="364.4" r="2.3"/><circle cx="170.2" cy="369.0" r="2.3"/><circle cx="170.2" cy="374.8" r="2.3"/><circle cx="170.2" cy="409.2" r="2.3"/><circle cx="170.2" cy="418.1" r="2.3"/><circle cx="181.4" cy="346.8" r="2.3"/><circle cx="192.7" cy="360.0" r="2.3"/><circle cx="192.7" cy="380.7" r="2.3"/><circle cx="192.7" cy="395.6" r="2.3"/><circle cx="192.7" cy="397.9" r="2.3"/></g><line x1="46.60" y1="498.70" x2="271.30" y2="265.00" stroke="#1a1a1a" stroke-width="1.3" stroke-dasharray="6 3.4"/></g><g stroke="#6e6e6e" stroke-width="1" fill="none"><line x1="102.78" y1="498.70" x2="102.78" y2="496.30"/><line x1="102.78" y1="265.00" x2="102.78" y2="267.40"/><line x1="46.60" y1="440.27" x2="49.00" y2="440.27"/><line x1="271.30" y1="440.27" x2="268.90" y2="440.27"/><line x1="158.95" y1="498.70" x2="158.95" y2="496.30"/><line x1="158.95" y1="265.00" x2="158.95" y2="267.40"/><line x1="46.60" y1="381.85" x2="49.00" y2="381.85"/><line x1="271.30" y1="381.85" x2="268.90" y2="381.85"/><line x1="215.13" y1="498.70" x2="215.13" y2="496.30"/><line x1="215.13" y1="265.00" x2="215.13" y2="267.40"/><line x1="46.60" y1="323.42" x2="49.00" y2="323.42"/><line x1="271.30" y1="323.42" x2="268.90" y2="323.42"/><rect x="46.60" y="265.00" width="224.70" height="233.70"/></g><g font-family="Liberation Serif" font-size="12.4" fill="#262626" stroke="#262626" stroke-width="0.2"><text x="41.60" y="503.70" text-anchor="end">0</text><text x="46.60" y="515.60" text-anchor="middle">0</text><text x="41.60" y="445.27" text-anchor="end">5</text><text x="102.78" y="515.60" text-anchor="middle">5</text><text x="41.60" y="386.85" text-anchor="end">10</text><text x="158.95" y="515.60" text-anchor="middle">10</text><text x="41.60" y="328.42" text-anchor="end">15</text><text x="215.13" y="515.60" text-anchor="middle">15</text><text x="41.60" y="270.00" text-anchor="end">20</text><text x="271.30" y="515.60" text-anchor="middle">20</text></g><clipPath id="cd"><rect x="308.8" y="266.6" width="229.2" height="229.59999999999997"/></clipPath><g clip-path="url(#cd)"><g fill="none" stroke="#00e040" stroke-width="1.25"><circle cx="369.9" cy="390.0" r="2.3"/><circle cx="400.5" cy="379.0" r="2.3"/><circle cx="415.8" cy="399.3" r="2.3"/><circle cx="461.6" cy="388.3" r="2.3"/><circle cx="461.6" cy="386.5" r="2.3"/><circle cx="461.6" cy="384.6" r="2.3"/><circle cx="461.6" cy="382.8" r="2.3"/><circle cx="476.9" cy="382.8" r="2.3"/><circle cx="476.9" cy="381.1" r="2.3"/><circle cx="476.9" cy="379.5" r="2.3"/><circle cx="476.9" cy="377.8" r="2.3"/><circle cx="476.9" cy="376.2" r="2.3"/><circle cx="476.9" cy="374.5" r="2.3"/><circle cx="492.2" cy="370.1" r="2.3"/></g><g fill="none" stroke="#2020e0" stroke-width="1.25"><circle cx="431.0" cy="389.1" r="2.3"/><circle cx="431.0" cy="389.1" r="2.3"/><circle cx="446.3" cy="382.2" r="2.3"/><circle cx="446.3" cy="373.7" r="2.3"/><circle cx="446.3" cy="365.3" r="2.3"/><circle cx="400.5" cy="395.9" r="2.3"/><circle cx="400.5" cy="388.3" r="2.3"/><circle cx="369.9" cy="367.8" r="2.3"/><circle cx="385.2" cy="394.0" r="2.3"/><circle cx="385.2" cy="392.1" r="2.3"/><circle cx="385.2" cy="390.3" r="2.3"/><circle cx="385.2" cy="388.4" r="2.3"/><circle cx="385.2" cy="386.6" r="2.3"/><circle cx="385.2" cy="384.8" r="2.3"/><circle cx="385.2" cy="382.9" r="2.3"/><circle cx="385.2" cy="381.1" r="2.3"/><circle cx="385.2" cy="379.3" r="2.3"/><circle cx="385.2" cy="377.4" r="2.3"/><circle cx="400.5" cy="373.3" r="2.3"/><circle cx="400.5" cy="371.7" r="2.3"/><circle cx="400.5" cy="370.1" r="2.3"/><circle cx="400.5" cy="352.8" r="2.3"/><circle cx="400.5" cy="396.7" r="2.3"/><circle cx="415.8" cy="399.0" r="2.3"/><circle cx="415.8" cy="397.2" r="2.3"/><circle cx="415.8" cy="395.4" r="2.3"/><circle cx="415.8" cy="393.6" r="2.3"/><circle cx="415.8" cy="391.8" r="2.3"/><circle cx="415.8" cy="344.4" r="2.3"/><circle cx="431.0" cy="395.2" r="2.3"/><circle cx="431.0" cy="393.1" r="2.3"/><circle cx="431.0" cy="391.1" r="2.3"/><circle cx="431.0" cy="389.1" r="2.3"/><circle cx="446.3" cy="373.7" r="2.3"/><circle cx="446.3" cy="379.9" r="2.3"/><circle cx="461.6" cy="382.8" r="2.3"/><circle cx="461.6" cy="380.9" r="2.3"/><circle cx="461.6" cy="379.1" r="2.3"/><circle cx="461.6" cy="377.3" r="2.3"/><circle cx="461.6" cy="375.4" r="2.3"/><circle cx="461.6" cy="373.6" r="2.3"/><circle cx="461.6" cy="371.8" r="2.3"/><circle cx="476.9" cy="370.7" r="2.3"/><circle cx="476.9" cy="368.8" r="2.3"/><circle cx="476.9" cy="367.0" r="2.3"/><circle cx="476.9" cy="358.7" r="2.3"/><circle cx="492.2" cy="367.0" r="2.3"/><circle cx="492.2" cy="365.4" r="2.3"/><circle cx="492.2" cy="363.8" r="2.3"/><circle cx="492.2" cy="362.2" r="2.3"/><circle cx="492.2" cy="360.6" r="2.3"/></g><g fill="none" stroke="#ff1010" stroke-width="1.25"><circle cx="369.9" cy="377.6" r="2.3"/><circle cx="385.2" cy="411.7" r="2.3"/><circle cx="385.2" cy="409.5" r="2.3"/><circle cx="385.2" cy="407.3" r="2.3"/><circle cx="385.2" cy="405.1" r="2.3"/><circle cx="385.2" cy="402.9" r="2.3"/><circle cx="385.2" cy="400.7" r="2.3"/><circle cx="385.2" cy="398.5" r="2.3"/><circle cx="385.2" cy="396.3" r="2.3"/><circle cx="385.2" cy="394.1" r="2.3"/><circle cx="385.2" cy="350.3" r="2.3"/><circle cx="385.2" cy="367.2" r="2.3"/><circle cx="385.2" cy="372.2" r="2.3"/><circle cx="385.2" cy="376.0" r="2.3"/><circle cx="400.5" cy="404.4" r="2.3"/><circle cx="400.5" cy="402.1" r="2.3"/><circle cx="400.5" cy="399.9" r="2.3"/><circle cx="400.5" cy="397.6" r="2.3"/><circle cx="400.5" cy="395.4" r="2.3"/><circle cx="400.5" cy="393.2" r="2.3"/><circle cx="400.5" cy="390.9" r="2.3"/><circle cx="400.5" cy="388.7" r="2.3"/><circle cx="400.5" cy="386.5" r="2.3"/><circle cx="400.5" cy="384.2" r="2.3"/><circle cx="400.5" cy="382.0" r="2.3"/><circle cx="400.5" cy="379.8" r="2.3"/><circle cx="400.5" cy="377.5" r="2.3"/><circle cx="400.5" cy="375.3" r="2.3"/><circle cx="400.5" cy="336.1" r="2.3"/><circle cx="400.5" cy="340.1" r="2.3"/><circle cx="400.5" cy="348.9" r="2.3"/><circle cx="400.5" cy="365.0" r="2.3"/><circle cx="400.5" cy="366.7" r="2.3"/><circle cx="415.8" cy="391.8" r="2.3"/><circle cx="415.8" cy="389.5" r="2.3"/><circle cx="415.8" cy="387.3" r="2.3"/><circle cx="415.8" cy="385.0" r="2.3"/><circle cx="415.8" cy="382.7" r="2.3"/><circle cx="415.8" cy="380.4" r="2.3"/><circle cx="415.8" cy="378.1" r="2.3"/><circle cx="415.8" cy="375.9" r="2.3"/><circle cx="415.8" cy="373.6" r="2.3"/><circle cx="415.8" cy="371.3" r="2.3"/><circle cx="415.8" cy="369.0" r="2.3"/><circle cx="415.8" cy="366.8" r="2.3"/><circle cx="415.8" cy="364.5" r="2.3"/><circle cx="415.8" cy="362.2" r="2.3"/><circle cx="415.8" cy="359.9" r="2.3"/><circle cx="415.8" cy="357.7" r="2.3"/><circle cx="415.8" cy="355.4" r="2.3"/><circle cx="415.8" cy="318.2" r="2.3"/><circle cx="415.8" cy="331.5" r="2.3"/><circle cx="415.8" cy="333.9" r="2.3"/><circle cx="415.8" cy="335.9" r="2.3"/><circle cx="415.8" cy="353.7" r="2.3"/><circle cx="431.0" cy="395.5" r="2.3"/><circle cx="431.0" cy="393.2" r="2.3"/><circle cx="431.0" cy="390.9" r="2.3"/><circle cx="431.0" cy="388.6" r="2.3"/><circle cx="431.0" cy="386.3" r="2.3"/><circle cx="431.0" cy="384.0" r="2.3"/><circle cx="431.0" cy="381.7" r="2.3"/><circle cx="431.0" cy="379.4" r="2.3"/><circle cx="431.0" cy="377.1" r="2.3"/><circle cx="431.0" cy="374.8" r="2.3"/><circle cx="431.0" cy="372.5" r="2.3"/><circle cx="431.0" cy="370.2" r="2.3"/><circle cx="431.0" cy="367.9" r="2.3"/><circle cx="431.0" cy="365.6" r="2.3"/><circle cx="431.0" cy="363.3" r="2.3"/><circle cx="431.0" cy="361.0" r="2.3"/><circle cx="431.0" cy="358.6" r="2.3"/><circle cx="431.0" cy="356.3" r="2.3"/><circle cx="431.0" cy="354.0" r="2.3"/><circle cx="431.0" cy="351.7" r="2.3"/><circle cx="431.0" cy="349.4" r="2.3"/><circle cx="431.0" cy="347.1" r="2.3"/><circle cx="431.0" cy="344.8" r="2.3"/><circle cx="431.0" cy="342.5" r="2.3"/><circle cx="431.0" cy="340.2" r="2.3"/><circle cx="431.0" cy="337.9" r="2.3"/><circle cx="446.3" cy="394.6" r="2.3"/><circle cx="446.3" cy="392.2" r="2.3"/><circle cx="446.3" cy="389.9" r="2.3"/><circle cx="446.3" cy="387.6" r="2.3"/><circle cx="446.3" cy="385.3" r="2.3"/><circle cx="446.3" cy="383.0" r="2.3"/><circle cx="446.3" cy="380.6" r="2.3"/><circle cx="446.3" cy="378.3" r="2.3"/><circle cx="446.3" cy="376.0" r="2.3"/><circle cx="446.3" cy="373.7" r="2.3"/><circle cx="446.3" cy="371.3" r="2.3"/><circle cx="446.3" cy="369.0" r="2.3"/><circle cx="446.3" cy="366.7" r="2.3"/><circle cx="446.3" cy="364.4" r="2.3"/><circle cx="446.3" cy="362.1" r="2.3"/><circle cx="446.3" cy="359.7" r="2.3"/><circle cx="446.3" cy="357.4" r="2.3"/><circle cx="446.3" cy="355.1" r="2.3"/><circle cx="446.3" cy="352.8" r="2.3"/><circle cx="446.3" cy="350.4" r="2.3"/><circle cx="446.3" cy="348.1" r="2.3"/><circle cx="446.3" cy="345.8" r="2.3"/><circle cx="446.3" cy="343.5" r="2.3"/><circle cx="446.3" cy="341.1" r="2.3"/><circle cx="446.3" cy="338.8" r="2.3"/><circle cx="446.3" cy="336.5" r="2.3"/><circle cx="446.3" cy="334.2" r="2.3"/><circle cx="446.3" cy="331.9" r="2.3"/><circle cx="446.3" cy="329.5" r="2.3"/><circle cx="446.3" cy="327.2" r="2.3"/><circle cx="446.3" cy="317.0" r="2.3"/><circle cx="461.6" cy="332.0" r="2.3"/><circle cx="461.6" cy="329.6" r="2.3"/><circle cx="461.6" cy="327.3" r="2.3"/><circle cx="461.6" cy="325.0" r="2.3"/><circle cx="461.6" cy="322.6" r="2.3"/><circle cx="461.6" cy="320.3" r="2.3"/><circle cx="461.6" cy="318.0" r="2.3"/><circle cx="461.6" cy="315.7" r="2.3"/><circle cx="461.6" cy="313.3" r="2.3"/><circle cx="461.6" cy="311.0" r="2.3"/><circle cx="461.6" cy="308.7" r="2.3"/><circle cx="461.6" cy="306.3" r="2.3"/><circle cx="461.6" cy="304.0" r="2.3"/><circle cx="461.6" cy="301.7" r="2.3"/><circle cx="461.6" cy="299.4" r="2.3"/><circle cx="461.6" cy="370.7" r="2.3"/><circle cx="461.6" cy="368.3" r="2.3"/><circle cx="461.6" cy="365.8" r="2.3"/><circle cx="461.6" cy="363.4" r="2.3"/><circle cx="461.6" cy="361.0" r="2.3"/><circle cx="461.6" cy="358.5" r="2.3"/><circle cx="461.6" cy="356.1" r="2.3"/><circle cx="461.6" cy="353.7" r="2.3"/><circle cx="461.6" cy="351.2" r="2.3"/><circle cx="461.6" cy="345.7" r="2.3"/><circle cx="461.6" cy="388.3" r="2.3"/><circle cx="476.9" cy="284.0" r="2.3"/><circle cx="476.9" cy="288.9" r="2.3"/><circle cx="476.9" cy="298.4" r="2.3"/><circle cx="476.9" cy="323.1" r="2.3"/><circle cx="476.9" cy="350.5" r="2.3"/><circle cx="492.2" cy="285.6" r="2.3"/><circle cx="492.2" cy="294.8" r="2.3"/></g><line x1="308.80" y1="496.20" x2="538.00" y2="266.60" stroke="#1a1a1a" stroke-width="1.3" stroke-dasharray="6 3.4"/></g><g stroke="#6e6e6e" stroke-width="1" fill="none"><line x1="354.64" y1="496.20" x2="354.64" y2="493.80"/><line x1="354.64" y1="266.60" x2="354.64" y2="269.00"/><line x1="308.80" y1="450.28" x2="311.20" y2="450.28"/><line x1="538.00" y1="450.28" x2="535.60" y2="450.28"/><line x1="400.48" y1="496.20" x2="400.48" y2="493.80"/><line x1="400.48" y1="266.60" x2="400.48" y2="269.00"/><line x1="308.80" y1="404.36" x2="311.20" y2="404.36"/><line x1="538.00" y1="404.36" x2="535.60" y2="404.36"/><line x1="446.32" y1="496.20" x2="446.32" y2="493.80"/><line x1="446.32" y1="266.60" x2="446.32" y2="269.00"/><line x1="308.80" y1="358.44" x2="311.20" y2="358.44"/><line x1="538.00" y1="358.44" x2="535.60" y2="358.44"/><line x1="492.16" y1="496.20" x2="492.16" y2="493.80"/><line x1="492.16" y1="266.60" x2="492.16" y2="269.00"/><line x1="308.80" y1="312.52" x2="311.20" y2="312.52"/><line x1="538.00" y1="312.52" x2="535.60" y2="312.52"/><rect x="308.80" y="266.60" width="229.20" height="229.60"/></g><g font-family="Liberation Serif" font-size="12.4" fill="#262626" stroke="#262626" stroke-width="0.2"><text x="303.80" y="501.20" text-anchor="end">0</text><text x="308.80" y="513.10" text-anchor="middle">0</text><text x="303.80" y="455.28" text-anchor="end">0.3</text><text x="354.64" y="513.10" text-anchor="middle">0.3</text><text x="303.80" y="409.36" text-anchor="end">0.6</text><text x="400.48" y="513.10" text-anchor="middle">0.6</text><text x="303.80" y="363.44" text-anchor="end">0.9</text><text x="446.32" y="513.10" text-anchor="middle">0.9</text><text x="303.80" y="317.52" text-anchor="end">1.2</text><text x="492.16" y="513.10" text-anchor="middle">1.2</text><text x="303.80" y="271.60" text-anchor="end">1.5</text><text x="538.00" y="513.10" text-anchor="middle">1.5</text></g><line x1="46.50" y1="191.49" x2="270.10" y2="164.07" stroke="#00e83a" stroke-width="1.6"/><line x1="46.50" y1="217.21" x2="270.10" y2="35.30" stroke="#1010f0" stroke-width="1.6"/><line x1="46.50" y1="220.16" x2="270.10" y2="51.90" stroke="#f01010" stroke-width="1.6"/><line x1="311.00" y1="196.62" x2="536.10" y2="116.63" stroke="#00e83a" stroke-width="1.6"/><line x1="311.00" y1="205.06" x2="536.10" y2="75.19" stroke="#1010f0" stroke-width="1.6"/><line x1="311.00" y1="226.36" x2="536.10" y2="68.67" stroke="#f01010" stroke-width="1.6"/><line x1="46.60" y1="457.57" x2="271.30" y2="352.05" stroke="#00e83a" stroke-width="1.6"/><line x1="46.60" y1="462.24" x2="271.30" y2="345.04" stroke="#1010f0" stroke-width="1.6"/><line x1="46.60" y1="481.87" x2="271.30" y2="286.73" stroke="#f01010" stroke-width="1.6"/><line x1="308.80" y1="394.56" x2="538.00" y2="363.34" stroke="#00e83a" stroke-width="1.6"/><line x1="308.80" y1="404.67" x2="538.00" y2="347.73" stroke="#1010f0" stroke-width="1.6"/><line x1="308.80" y1="449.82" x2="538.00" y2="288.79" stroke="#f01010" stroke-width="1.6"/><circle cx="65.5" cy="19.9" r="2.6" fill="none" stroke="#00e040" stroke-width="1.2"/><text x="79.6" y="24.3" font-family="Liberation Serif" font-size="12.6" fill="#262626" stroke="#262626" stroke-width="0.12">BPNN</text><circle cx="65.5" cy="35.3" r="2.6" fill="none" stroke="#2020e0" stroke-width="1.2"/><text x="79.6" y="39.7" font-family="Liberation Serif" font-size="12.6" fill="#262626" stroke="#262626" stroke-width="0.12">LSTM</text><circle cx="65.5" cy="50.7" r="2.6" fill="none" stroke="#ff1010" stroke-width="1.2"/><text x="79.6" y="55.1" font-family="Liberation Serif" font-size="12.6" fill="#262626" stroke="#262626" stroke-width="0.12">WRF-chem</text><text x="214.6" y="227.9" font-family="Liberation Serif" font-size="14.3" fill="#262626" stroke="#262626" stroke-width="0.12">(a)PM<tspan font-size="11.5" dx="0.6" dy="7.2">2.5</tspan></text><text x="485.2" y="230.4" font-family="Liberation Serif" font-size="14.3" fill="#262626" stroke="#262626" stroke-width="0.12">(b)NO<tspan font-size="11.5" dx="0.6" dy="7.2">2</tspan></text><text x="221.6" y="489.0" font-family="Liberation Serif" font-size="14.3" fill="#262626" stroke="#262626" stroke-width="0.12">(c)SO<tspan font-size="11.5" dx="0.6" dy="7.2">2</tspan></text><text x="490.8" y="486.2" font-family="Liberation Serif" font-size="14.3" fill="#262626" stroke="#262626" stroke-width="0.12">(d)CO</text><text x="197.6" y="534" font-family="Liberation Serif" font-weight="bold" font-size="19" fill="#111">Observed concentrations</text><text transform="translate(20,350.4) rotate(-90)" x="0" y="0" font-family="Liberation Serif" font-weight="bold" font-size="19.5" fill="#111">Simulated concentrations</text>
</svg></body></html>
